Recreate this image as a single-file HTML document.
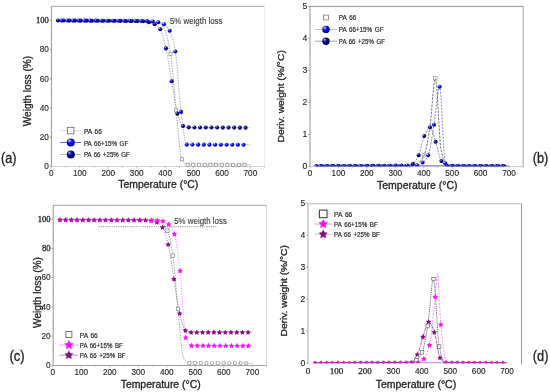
<!DOCTYPE html>
<html><head><meta charset="utf-8"><style>
html,body{margin:0;padding:0;background:#fff;width:550px;height:392px;overflow:hidden}
svg{display:block;filter:blur(0.35px)}
</style></head><body>
<svg width="550" height="392" viewBox="0 0 550 392" font-family='"Liberation Sans", sans-serif'>
<rect width="550" height="392" fill="#fff"/>
<defs><radialGradient id="gl" cx="0.4" cy="0.38" r="0.62" fx="0.33" fy="0.28"><stop offset="0" stop-color="#ffffff"/><stop offset="0.18" stop-color="#8080ff"/><stop offset="0.45" stop-color="#0808ff"/><stop offset="0.85" stop-color="#0000c0"/><stop offset="1" stop-color="#000090"/></radialGradient><radialGradient id="gd" cx="0.4" cy="0.38" r="0.62" fx="0.33" fy="0.28"><stop offset="0" stop-color="#e0e0ff"/><stop offset="0.18" stop-color="#5a5ab0"/><stop offset="0.45" stop-color="#0a0a98"/><stop offset="0.85" stop-color="#000070"/><stop offset="1" stop-color="#000048"/></radialGradient><clipPath id="cb"><rect x="310" y="6.4" width="213.2" height="159.9"/></clipPath><clipPath id="cd"><rect x="308" y="203.8" width="213.7" height="159.5"/></clipPath></defs>
<line x1="51.40" y1="6.30" x2="264.50" y2="6.30" stroke="#999" stroke-width="0.9"/>
<line x1="264.50" y1="6.30" x2="264.50" y2="166.50" stroke="#e8e8e8" stroke-width="0.8"/>
<line x1="51.40" y1="166.50" x2="264.50" y2="166.50" stroke="#c8c8c8" stroke-width="0.8"/>
<line x1="51.40" y1="6.30" x2="51.40" y2="166.50" stroke="#959595" stroke-width="1.0"/>
<line x1="51.40" y1="166.50" x2="51.40" y2="168.30" stroke="#999" stroke-width="0.6"/>
<line x1="65.61" y1="166.50" x2="65.61" y2="167.70" stroke="#999" stroke-width="0.6"/>
<line x1="79.83" y1="166.50" x2="79.83" y2="168.30" stroke="#999" stroke-width="0.6"/>
<line x1="94.04" y1="166.50" x2="94.04" y2="167.70" stroke="#999" stroke-width="0.6"/>
<line x1="108.26" y1="166.50" x2="108.26" y2="168.30" stroke="#999" stroke-width="0.6"/>
<line x1="122.47" y1="166.50" x2="122.47" y2="167.70" stroke="#999" stroke-width="0.6"/>
<line x1="136.69" y1="166.50" x2="136.69" y2="168.30" stroke="#999" stroke-width="0.6"/>
<line x1="150.91" y1="166.50" x2="150.91" y2="167.70" stroke="#999" stroke-width="0.6"/>
<line x1="165.12" y1="166.50" x2="165.12" y2="168.30" stroke="#999" stroke-width="0.6"/>
<line x1="179.34" y1="166.50" x2="179.34" y2="167.70" stroke="#999" stroke-width="0.6"/>
<line x1="193.55" y1="166.50" x2="193.55" y2="168.30" stroke="#999" stroke-width="0.6"/>
<line x1="207.77" y1="166.50" x2="207.77" y2="167.70" stroke="#999" stroke-width="0.6"/>
<line x1="221.98" y1="166.50" x2="221.98" y2="168.30" stroke="#999" stroke-width="0.6"/>
<line x1="236.19" y1="166.50" x2="236.19" y2="167.70" stroke="#999" stroke-width="0.6"/>
<line x1="250.41" y1="166.50" x2="250.41" y2="168.30" stroke="#999" stroke-width="0.6"/>
<line x1="264.62" y1="166.50" x2="264.62" y2="167.70" stroke="#999" stroke-width="0.6"/>
<text x="51.4" y="176.2" font-size="8.2" text-anchor="middle" fill="#222" stroke="#222" stroke-width="0.12" font-family='"Liberation Sans", sans-serif' font-weight="normal">0</text>
<text x="79.83" y="176.2" font-size="8.2" text-anchor="middle" fill="#222" stroke="#222" stroke-width="0.12" font-family='"Liberation Sans", sans-serif' font-weight="normal">100</text>
<text x="108.26" y="176.2" font-size="8.2" text-anchor="middle" fill="#222" stroke="#222" stroke-width="0.12" font-family='"Liberation Sans", sans-serif' font-weight="normal">200</text>
<text x="136.69" y="176.2" font-size="8.2" text-anchor="middle" fill="#222" stroke="#222" stroke-width="0.12" font-family='"Liberation Sans", sans-serif' font-weight="normal">300</text>
<text x="165.12" y="176.2" font-size="8.2" text-anchor="middle" fill="#222" stroke="#222" stroke-width="0.12" font-family='"Liberation Sans", sans-serif' font-weight="normal">400</text>
<text x="193.55" y="176.2" font-size="8.2" text-anchor="middle" fill="#222" stroke="#222" stroke-width="0.12" font-family='"Liberation Sans", sans-serif' font-weight="normal">500</text>
<text x="221.98" y="176.2" font-size="8.2" text-anchor="middle" fill="#222" stroke="#222" stroke-width="0.12" font-family='"Liberation Sans", sans-serif' font-weight="normal">600</text>
<text x="250.41" y="176.2" font-size="8.2" text-anchor="middle" fill="#222" stroke="#222" stroke-width="0.12" font-family='"Liberation Sans", sans-serif' font-weight="normal">700</text>
<line x1="49.60" y1="166.30" x2="51.40" y2="166.30" stroke="#777" stroke-width="0.6"/>
<text x="48.8" y="169.0" font-size="8.2" text-anchor="end" fill="#222" stroke="#222" stroke-width="0.12" font-family='"Liberation Sans", sans-serif' font-weight="normal">0</text>
<line x1="49.60" y1="137.14" x2="51.40" y2="137.14" stroke="#777" stroke-width="0.6"/>
<text x="48.8" y="139.84" font-size="8.2" text-anchor="end" fill="#222" stroke="#222" stroke-width="0.12" font-family='"Liberation Sans", sans-serif' font-weight="normal">20</text>
<line x1="49.60" y1="107.98" x2="51.40" y2="107.98" stroke="#777" stroke-width="0.6"/>
<text x="48.8" y="110.68" font-size="8.2" text-anchor="end" fill="#222" stroke="#222" stroke-width="0.12" font-family='"Liberation Sans", sans-serif' font-weight="normal">40</text>
<line x1="49.60" y1="78.82" x2="51.40" y2="78.82" stroke="#777" stroke-width="0.6"/>
<text x="48.8" y="81.52" font-size="8.2" text-anchor="end" fill="#222" stroke="#222" stroke-width="0.12" font-family='"Liberation Sans", sans-serif' font-weight="normal">60</text>
<line x1="49.60" y1="49.66" x2="51.40" y2="49.66" stroke="#777" stroke-width="0.6"/>
<text x="48.8" y="52.36" font-size="8.2" text-anchor="end" fill="#222" stroke="#222" stroke-width="0.12" font-family='"Liberation Sans", sans-serif' font-weight="normal">80</text>
<line x1="49.60" y1="20.50" x2="51.40" y2="20.50" stroke="#777" stroke-width="0.6"/>
<text x="48.8" y="23.4" font-size="8.6" text-anchor="end" fill="#222" stroke="#222" stroke-width="0.3" font-family='"Liberation Serif", serif' font-weight="normal">100</text>
<line x1="50.30" y1="151.72" x2="51.40" y2="151.72" stroke="#999" stroke-width="0.5"/>
<line x1="50.30" y1="122.56" x2="51.40" y2="122.56" stroke="#999" stroke-width="0.5"/>
<line x1="50.30" y1="93.40" x2="51.40" y2="93.40" stroke="#999" stroke-width="0.5"/>
<line x1="50.30" y1="64.24" x2="51.40" y2="64.24" stroke="#999" stroke-width="0.5"/>
<line x1="50.30" y1="35.08" x2="51.40" y2="35.08" stroke="#999" stroke-width="0.5"/>
<line x1="99.00" y1="26.80" x2="217.00" y2="26.80" stroke="#c4c4c4" stroke-width="0.7" stroke-dasharray="0.8 1.3"/>
<text x="169.9" y="23.8" font-size="8.6" text-anchor="start" fill="#333" stroke="#333" stroke-width="0.1" font-family='"Liberation Sans", sans-serif' font-weight="normal" textLength="52.6" lengthAdjust="spacingAndGlyphs">5% weigth loss</text>
<text x="118.3" y="187.9" font-size="10.2" text-anchor="start" fill="#222" stroke="#222" stroke-width="0.3" font-family='"Liberation Sans", sans-serif' font-weight="normal" textLength="80" lengthAdjust="spacingAndGlyphs">Temperature (°C)</text>
<text x="31.3" y="126.3" font-size="10.4" text-anchor="start" fill="#222" stroke="#222" stroke-width="0.3" font-family='"Liberation Sans", sans-serif' font-weight="normal" textLength="70.4" lengthAdjust="spacingAndGlyphs" transform="rotate(-90 31.3 126.3)">Weigth loss (%)</text>
<text x="1.0" y="162.6" font-size="14" text-anchor="start" fill="#222" stroke="#222" stroke-width="0.3" font-family='"Liberation Sans", sans-serif' font-weight="normal" textLength="15.4" lengthAdjust="spacingAndGlyphs">(a)</text>
<polyline points="57.09,20.50 57.65,20.50 58.22,20.50 58.79,20.51 59.36,20.51 59.93,20.51 60.50,20.51 61.07,20.51 61.63,20.51 62.20,20.52 62.77,20.52 63.34,20.52 63.91,20.52 64.48,20.52 65.05,20.52 65.61,20.52 66.18,20.52 66.75,20.53 67.32,20.53 67.89,20.53 68.46,20.53 69.03,20.53 69.60,20.53 70.16,20.53 70.73,20.53 71.30,20.54 71.87,20.54 72.44,20.54 73.01,20.54 73.58,20.54 74.14,20.54 74.71,20.54 75.28,20.54 75.85,20.54 76.42,20.55 76.99,20.55 77.56,20.55 78.12,20.55 78.69,20.55 79.26,20.55 79.83,20.55 80.40,20.55 80.97,20.55 81.54,20.55 82.10,20.55 82.67,20.56 83.24,20.56 83.81,20.56 84.38,20.56 84.95,20.56 85.52,20.56 86.08,20.56 86.65,20.56 87.22,20.56 87.79,20.56 88.36,20.56 88.93,20.56 89.50,20.57 90.06,20.57 90.63,20.57 91.20,20.57 91.77,20.57 92.34,20.57 92.91,20.57 93.48,20.57 94.04,20.57 94.61,20.57 95.18,20.57 95.75,20.57 96.32,20.58 96.89,20.58 97.46,20.58 98.03,20.58 98.59,20.58 99.16,20.58 99.73,20.58 100.30,20.58 100.87,20.58 101.44,20.58 102.01,20.59 102.57,20.59 103.14,20.59 103.71,20.59 104.28,20.59 104.85,20.59 105.42,20.59 105.99,20.59 106.55,20.59 107.12,20.60 107.69,20.60 108.26,20.60 108.83,20.60 109.40,20.60 109.97,20.60 110.53,20.60 111.10,20.61 111.67,20.61 112.24,20.61 112.81,20.61 113.38,20.61 113.95,20.61 114.51,20.61 115.08,20.62 115.65,20.62 116.22,20.62 116.79,20.62 117.36,20.62 117.93,20.63 118.49,20.63 119.06,20.63 119.63,20.63 120.20,20.63 120.77,20.63 121.34,20.64 121.91,20.64 122.47,20.64 123.04,20.64 123.61,20.65 124.18,20.65 124.75,20.65 125.32,20.65 125.89,20.66 126.46,20.66 127.02,20.66 127.59,20.66 128.16,20.67 128.73,20.67 129.30,20.67 129.87,20.67 130.44,20.68 131.00,20.68 131.57,20.68 132.14,20.69 132.71,20.69 133.28,20.69 133.85,20.69 134.42,20.70 134.98,20.70 135.55,20.70 136.12,20.71 136.69,20.71 137.26,20.71 137.83,20.72 138.40,20.72 138.96,20.73 139.53,20.73 140.10,20.73 140.67,20.74 141.24,20.74 141.81,20.75 142.38,20.75 142.94,20.75 143.51,20.76 144.08,20.76 144.65,20.77 145.22,20.77 145.79,20.78 146.36,20.78 146.92,20.78 147.49,20.79 147.78,20.79 148.06,20.80 148.63,20.81 149.20,20.84 149.77,20.87 150.34,20.91 150.91,20.96 151.47,21.01 152.04,21.07 152.61,21.13 153.18,21.20 153.46,21.23 153.75,21.26 154.32,21.34 154.89,21.42 155.45,21.52 156.02,21.63 156.59,21.75 157.16,21.89 157.73,22.05 158.30,22.23 158.87,22.43 159.15,22.54 159.43,22.67 160.00,23.02 160.57,23.49 161.14,24.06 161.71,24.75 162.28,25.52 162.85,26.38 163.41,27.33 163.98,28.34 164.55,29.42 164.84,29.98 165.12,30.58 165.69,32.01 166.26,33.71 166.83,35.68 167.39,37.89 167.96,40.34 168.53,43.00 169.10,45.85 169.67,48.89 170.24,52.09 170.52,53.74 170.81,55.54 171.37,59.79 171.94,64.80 172.51,70.41 173.08,76.45 173.65,82.78 174.22,89.22 174.79,95.63 175.35,101.85 175.92,107.71 176.21,110.46 176.49,113.22 177.06,119.17 177.63,125.48 178.20,131.89 178.77,138.15 179.34,144.04 179.90,149.28 180.47,153.64 181.04,156.87 181.61,158.72 182.18,159.76 182.75,160.72 183.32,161.59 183.88,162.37 184.45,163.05 185.02,163.62 185.59,164.08 186.16,164.41 186.73,164.62 187.30,164.70 187.86,164.70 188.43,164.70 189.00,164.71 189.57,164.71 190.14,164.71 190.71,164.72 191.28,164.72 191.84,164.72 192.41,164.73 192.98,164.73 193.55,164.73 194.12,164.73 194.69,164.74 195.26,164.74 195.82,164.74 196.39,164.74 196.96,164.75 197.53,164.75 198.10,164.75 198.67,164.75 199.24,164.76 199.80,164.76 200.37,164.76 200.94,164.76 201.51,164.76 202.08,164.77 202.65,164.77 203.22,164.77 203.78,164.77 204.35,164.77 204.92,164.77 205.49,164.78 206.06,164.78 206.63,164.78 207.20,164.78 207.77,164.78 208.33,164.78 208.90,164.78 209.47,164.79 210.04,164.79 210.61,164.79 211.18,164.79 211.75,164.79 212.31,164.79 212.88,164.79 213.45,164.79 214.02,164.79 214.59,164.79 215.16,164.80 215.73,164.80 216.29,164.80 216.86,164.80 217.43,164.80 218.00,164.80 218.57,164.80 219.14,164.80 219.71,164.80 220.27,164.80 220.84,164.80 221.41,164.80 221.98,164.80 222.55,164.81 223.12,164.81 223.69,164.81 224.25,164.81 224.82,164.81 225.39,164.81 225.96,164.81 226.53,164.81 227.10,164.81 227.67,164.81 228.23,164.81 228.80,164.81 229.37,164.81 229.94,164.81 230.51,164.81 231.08,164.81 231.65,164.81 232.21,164.82 232.78,164.82 233.35,164.82 233.92,164.82 234.49,164.82 235.06,164.82 235.63,164.82 236.19,164.82 236.76,164.82 237.33,164.82 237.90,164.82 238.47,164.82 239.04,164.82 239.61,164.82 240.18,164.82 240.74,164.82 241.31,164.83 241.88,164.83 242.45,164.83 243.02,164.83 243.59,164.83 244.16,164.83 244.72,164.83 245.29,164.83 245.86,164.83 246.43,164.83 247.00,164.83 247.57,164.84 248.14,164.84 248.70,164.84 249.27,164.84 249.84,164.84 250.41,164.84" fill="none" stroke="#666" stroke-width="0.65" stroke-dasharray="1.3 1.3" opacity="1"/>
<polyline points="57.09,20.50 57.65,20.50 58.22,20.51 58.79,20.51 59.36,20.51 59.93,20.52 60.50,20.52 61.07,20.52 61.63,20.53 62.20,20.53 62.77,20.53 63.34,20.54 63.91,20.54 64.48,20.54 65.05,20.55 65.61,20.55 66.18,20.55 66.75,20.55 67.32,20.56 67.89,20.56 68.46,20.56 69.03,20.56 69.60,20.57 70.16,20.57 70.73,20.57 71.30,20.57 71.87,20.58 72.44,20.58 73.01,20.58 73.58,20.58 74.14,20.59 74.71,20.59 75.28,20.59 75.85,20.59 76.42,20.59 76.99,20.60 77.56,20.60 78.12,20.60 78.69,20.60 79.26,20.61 79.83,20.61 80.40,20.61 80.97,20.61 81.54,20.61 82.10,20.62 82.67,20.62 83.24,20.62 83.81,20.62 84.38,20.62 84.95,20.62 85.52,20.63 86.08,20.63 86.65,20.63 87.22,20.63 87.79,20.63 88.36,20.64 88.93,20.64 89.50,20.64 90.06,20.64 90.63,20.64 91.20,20.65 91.77,20.65 92.34,20.65 92.91,20.65 93.48,20.65 94.04,20.66 94.61,20.66 95.18,20.66 95.75,20.66 96.32,20.66 96.89,20.67 97.46,20.67 98.03,20.67 98.59,20.67 99.16,20.67 99.73,20.68 100.30,20.68 100.87,20.68 101.44,20.68 102.01,20.69 102.57,20.69 103.14,20.69 103.71,20.69 104.28,20.70 104.85,20.70 105.42,20.70 105.99,20.70 106.55,20.71 107.12,20.71 107.69,20.71 108.26,20.71 108.83,20.72 109.40,20.72 109.97,20.72 110.53,20.73 111.10,20.73 111.67,20.73 112.24,20.73 112.81,20.74 113.38,20.74 113.95,20.74 114.51,20.75 115.08,20.75 115.65,20.75 116.22,20.76 116.79,20.76 117.36,20.77 117.93,20.77 118.49,20.77 119.06,20.78 119.63,20.78 120.20,20.79 120.77,20.79 121.34,20.79 121.91,20.80 122.47,20.80 123.04,20.81 123.61,20.81 124.18,20.82 124.75,20.82 125.32,20.83 125.89,20.83 126.46,20.84 127.02,20.84 127.59,20.85 128.16,20.85 128.73,20.86 129.30,20.86 129.87,20.87 130.44,20.87 131.00,20.88 131.57,20.88 132.14,20.89 132.71,20.90 133.28,20.90 133.85,20.91 134.42,20.91 134.98,20.92 135.55,20.93 136.12,20.93 136.69,20.94 137.26,20.95 137.83,20.95 138.40,20.96 138.96,20.97 139.53,20.98 140.10,20.98 140.67,20.99 141.24,21.00 141.81,21.01 142.38,21.02 142.94,21.02 143.51,21.03 144.08,21.04 144.65,21.05 145.22,21.06 145.79,21.07 146.36,21.07 146.92,21.08 147.49,21.10 148.06,21.12 148.63,21.16 149.20,21.20 149.77,21.24 150.34,21.30 150.91,21.35 151.47,21.41 152.04,21.46 152.61,21.52 153.18,21.58 153.75,21.63 154.32,21.69 154.89,21.75 155.45,21.82 156.02,21.89 156.59,21.97 157.16,22.05 157.73,22.15 158.30,22.25 158.87,22.37 159.43,22.50 160.00,22.65 160.57,22.83 161.14,23.02 161.71,23.23 162.28,23.46 162.85,23.72 163.41,23.99 163.98,24.29 164.55,24.63 165.12,25.04 165.69,25.51 166.26,26.05 166.83,26.66 167.39,27.33 167.96,28.07 168.53,28.88 169.10,29.76 169.67,30.71 170.24,31.81 170.81,33.14 171.37,34.70 171.94,36.48 172.51,38.48 173.08,40.70 173.65,43.11 174.22,45.73 174.79,48.55 175.35,51.56 175.92,55.37 176.49,60.44 177.06,66.48 177.63,73.20 178.20,80.31 178.77,87.54 179.34,94.60 179.90,101.21 180.47,107.07 181.04,111.92 181.61,116.26 182.18,120.74 182.75,125.20 183.32,129.51 183.88,133.54 184.45,137.14 185.02,140.19 185.59,142.53 186.16,144.04 186.73,144.58 187.30,144.58 187.86,144.58 188.43,144.59 189.00,144.59 189.57,144.59 190.14,144.60 190.71,144.60 191.28,144.60 191.84,144.61 192.41,144.61 192.98,144.61 193.55,144.61 194.12,144.62 194.69,144.62 195.26,144.62 195.82,144.62 196.39,144.63 196.96,144.63 197.53,144.63 198.10,144.63 198.67,144.64 199.24,144.64 199.80,144.64 200.37,144.64 200.94,144.64 201.51,144.64 202.08,144.65 202.65,144.65 203.22,144.65 203.78,144.65 204.35,144.65 204.92,144.66 205.49,144.66 206.06,144.66 206.63,144.66 207.20,144.66 207.77,144.66 208.33,144.66 208.90,144.66 209.47,144.67 210.04,144.67 210.61,144.67 211.18,144.67 211.75,144.67 212.31,144.67 212.88,144.67 213.45,144.67 214.02,144.67 214.59,144.68 215.16,144.68 215.73,144.68 216.29,144.68 216.86,144.68 217.43,144.68 218.00,144.68 218.57,144.68 219.14,144.68 219.71,144.68 220.27,144.68 220.84,144.68 221.41,144.68 221.98,144.68 222.55,144.69 223.12,144.69 223.69,144.69 224.25,144.69 224.82,144.69 225.39,144.69 225.96,144.69 226.53,144.69 227.10,144.69 227.67,144.69 228.23,144.69 228.80,144.69 229.37,144.69 229.94,144.69 230.51,144.69 231.08,144.69 231.65,144.69 232.21,144.69 232.78,144.70 233.35,144.70 233.92,144.70 234.49,144.70 235.06,144.70 235.63,144.70 236.19,144.70 236.76,144.70 237.33,144.70 237.90,144.70 238.47,144.70 239.04,144.70 239.61,144.70 240.18,144.70 240.74,144.70 241.31,144.71 241.88,144.71 242.45,144.71 243.02,144.71 243.59,144.71 244.16,144.71 244.72,144.71 245.29,144.71 245.86,144.71 246.43,144.71 247.00,144.71 247.57,144.72 248.14,144.72 248.70,144.72 249.27,144.72 249.84,144.72 250.41,144.72" fill="none" stroke="#777" stroke-width="0.65" stroke-dasharray="1.3 1.3" opacity="1"/>
<polyline points="57.09,20.50 57.65,20.50 58.22,20.51 58.79,20.51 59.36,20.52 59.93,20.52 60.50,20.53 61.07,20.53 61.63,20.54 62.20,20.54 62.77,20.54 63.34,20.55 63.91,20.55 64.48,20.55 65.05,20.56 65.61,20.56 66.18,20.57 66.75,20.57 67.32,20.57 67.89,20.58 68.46,20.58 69.03,20.58 69.60,20.58 70.16,20.59 70.73,20.59 71.30,20.59 71.87,20.60 72.44,20.60 73.01,20.60 73.58,20.60 74.14,20.61 74.71,20.61 75.28,20.61 75.85,20.62 76.42,20.62 76.99,20.62 77.56,20.62 78.12,20.63 78.69,20.63 79.26,20.63 79.83,20.63 80.40,20.63 80.97,20.64 81.54,20.64 82.10,20.64 82.67,20.64 83.24,20.65 83.81,20.65 84.38,20.65 84.95,20.65 85.52,20.66 86.08,20.66 86.65,20.66 87.22,20.66 87.79,20.66 88.36,20.67 88.93,20.67 89.50,20.67 90.06,20.67 90.63,20.68 91.20,20.68 91.77,20.68 92.34,20.68 92.91,20.69 93.48,20.69 94.04,20.69 94.61,20.69 95.18,20.70 95.75,20.70 96.32,20.70 96.89,20.70 97.46,20.71 98.03,20.71 98.59,20.71 99.16,20.71 99.73,20.72 100.30,20.72 100.87,20.72 101.44,20.73 102.01,20.73 102.57,20.73 103.14,20.73 103.71,20.74 104.28,20.74 104.85,20.74 105.42,20.75 105.99,20.75 106.55,20.75 107.12,20.76 107.69,20.76 108.26,20.77 108.83,20.77 109.40,20.77 109.97,20.78 110.53,20.78 111.10,20.79 111.67,20.79 112.24,20.79 112.81,20.80 113.38,20.80 113.95,20.81 114.51,20.81 115.08,20.82 115.65,20.82 116.22,20.83 116.79,20.83 117.36,20.84 117.93,20.84 118.49,20.85 119.06,20.85 119.63,20.86 120.20,20.87 120.77,20.87 121.34,20.88 121.91,20.88 122.47,20.89 123.04,20.90 123.61,20.90 124.18,20.91 124.75,20.92 125.32,20.93 125.89,20.93 126.46,20.94 127.02,20.95 127.59,20.95 128.16,20.96 128.73,20.97 129.30,20.98 129.87,20.99 130.44,21.00 131.00,21.00 131.57,21.01 132.14,21.02 132.71,21.03 133.28,21.04 133.85,21.05 134.42,21.06 134.98,21.07 135.55,21.08 136.12,21.09 136.69,21.10 137.26,21.11 137.83,21.12 138.40,21.13 138.96,21.14 139.53,21.15 140.10,21.16 140.67,21.17 141.24,21.19 141.81,21.20 142.38,21.21 142.94,21.22 143.23,21.23 143.51,21.24 144.08,21.28 144.65,21.34 145.22,21.43 145.79,21.53 146.36,21.64 146.92,21.77 147.49,21.90 148.06,22.04 148.63,22.18 148.91,22.25 149.20,22.32 149.77,22.47 150.34,22.62 150.91,22.80 151.47,22.98 152.04,23.18 152.61,23.40 153.18,23.63 153.75,23.88 154.32,24.15 154.60,24.29 154.89,24.44 155.45,24.75 156.02,25.10 156.59,25.49 157.16,25.92 157.73,26.39 158.30,26.92 158.87,27.50 159.43,28.15 160.00,28.86 160.29,29.25 160.57,29.68 161.14,30.80 161.71,32.21 162.28,33.87 162.85,35.75 163.41,37.81 163.98,40.02 164.55,42.33 165.12,44.72 165.69,47.14 165.97,48.35 166.26,49.60 166.83,52.35 167.39,55.37 167.96,58.61 168.53,62.01 169.10,65.53 169.67,69.11 170.24,72.69 170.81,76.22 171.37,79.64 171.66,81.30 171.94,82.96 172.51,86.46 173.08,90.11 173.65,93.82 174.22,97.51 174.79,101.10 175.35,104.50 175.92,107.62 176.49,110.38 177.06,112.70 177.34,113.67 177.63,114.56 178.20,116.32 178.77,118.01 179.34,119.62 179.90,121.11 180.47,122.46 181.04,123.64 181.61,124.63 182.18,125.39 182.75,125.90 183.03,126.06 183.32,126.18 183.88,126.39 184.45,126.59 185.02,126.77 185.59,126.93 186.16,127.07 186.73,127.18 187.30,127.27 187.86,127.33 188.43,127.36 188.72,127.37 189.00,127.37 189.57,127.38 190.14,127.39 190.71,127.40 191.28,127.40 191.84,127.41 192.41,127.41 192.98,127.42 193.55,127.43 194.12,127.43 194.69,127.44 195.26,127.44 195.82,127.45 196.39,127.45 196.96,127.46 197.53,127.46 198.10,127.47 198.67,127.47 199.24,127.48 199.80,127.48 200.37,127.49 200.94,127.49 201.51,127.50 202.08,127.50 202.65,127.50 203.22,127.51 203.78,127.51 204.35,127.51 204.92,127.52 205.49,127.52 206.06,127.52 206.63,127.53 207.20,127.53 207.77,127.53 208.33,127.54 208.90,127.54 209.47,127.54 210.04,127.54 210.61,127.55 211.18,127.55 211.75,127.55 212.31,127.55 212.88,127.56 213.45,127.56 214.02,127.56 214.59,127.56 215.16,127.56 215.73,127.57 216.29,127.57 216.86,127.57 217.43,127.57 218.00,127.57 218.57,127.58 219.14,127.58 219.71,127.58 220.27,127.58 220.84,127.58 221.41,127.58 221.98,127.58 222.55,127.59 223.12,127.59 223.69,127.59 224.25,127.59 224.82,127.59 225.39,127.59 225.96,127.59 226.53,127.59 227.10,127.60 227.67,127.60 228.23,127.60 228.80,127.60 229.37,127.60 229.94,127.60 230.51,127.60 231.08,127.60 231.65,127.61 232.21,127.61 232.78,127.61 233.35,127.61 233.92,127.61 234.49,127.61 235.06,127.61 235.63,127.61 236.19,127.62 236.76,127.62 237.33,127.62 237.90,127.62 238.47,127.62 239.04,127.62 239.61,127.62 240.18,127.63 240.74,127.63 241.31,127.63 241.88,127.63 242.45,127.63 243.02,127.63 243.59,127.64 244.16,127.64 244.72,127.64 245.29,127.64 245.86,127.64 246.43,127.65 247.00,127.65 247.57,127.65 248.14,127.65 248.70,127.66 249.27,127.66 249.84,127.66 250.41,127.66" fill="none" stroke="#777" stroke-width="0.65" stroke-dasharray="1.3 1.3" opacity="1"/>
<rect x="168.97" y="52.19" width="3.1" height="3.1" fill="#fff" stroke="#777" stroke-width="0.6"/>
<rect x="174.66" y="108.91" width="3.1" height="3.1" fill="#fff" stroke="#777" stroke-width="0.6"/>
<rect x="180.34" y="157.70" width="3.1" height="3.1" fill="#fff" stroke="#777" stroke-width="0.6"/>
<rect x="186.03" y="163.15" width="3.1" height="3.1" fill="#fff" stroke="#777" stroke-width="0.6"/>
<rect x="191.72" y="163.18" width="3.1" height="3.1" fill="#fff" stroke="#777" stroke-width="0.6"/>
<rect x="197.40" y="163.20" width="3.1" height="3.1" fill="#fff" stroke="#777" stroke-width="0.6"/>
<rect x="203.09" y="163.22" width="3.1" height="3.1" fill="#fff" stroke="#777" stroke-width="0.6"/>
<rect x="208.77" y="163.24" width="3.1" height="3.1" fill="#fff" stroke="#777" stroke-width="0.6"/>
<rect x="214.46" y="163.25" width="3.1" height="3.1" fill="#fff" stroke="#777" stroke-width="0.6"/>
<rect x="220.15" y="163.25" width="3.1" height="3.1" fill="#fff" stroke="#777" stroke-width="0.6"/>
<rect x="225.83" y="163.26" width="3.1" height="3.1" fill="#fff" stroke="#777" stroke-width="0.6"/>
<rect x="231.52" y="163.27" width="3.1" height="3.1" fill="#fff" stroke="#777" stroke-width="0.6"/>
<rect x="237.20" y="163.27" width="3.1" height="3.1" fill="#fff" stroke="#777" stroke-width="0.6"/>
<rect x="242.89" y="163.28" width="3.1" height="3.1" fill="#fff" stroke="#777" stroke-width="0.6"/>
<circle cx="57.94" cy="20.51" r="2.05" fill="url(#gd)"/>
<circle cx="63.62" cy="20.55" r="2.05" fill="url(#gd)"/>
<circle cx="69.31" cy="20.58" r="2.05" fill="url(#gd)"/>
<circle cx="75.00" cy="20.61" r="2.05" fill="url(#gd)"/>
<circle cx="80.68" cy="20.64" r="2.05" fill="url(#gd)"/>
<circle cx="86.37" cy="20.66" r="2.05" fill="url(#gd)"/>
<circle cx="92.05" cy="20.68" r="2.05" fill="url(#gd)"/>
<circle cx="97.74" cy="20.71" r="2.05" fill="url(#gd)"/>
<circle cx="103.43" cy="20.74" r="2.05" fill="url(#gd)"/>
<circle cx="109.11" cy="20.77" r="2.05" fill="url(#gd)"/>
<circle cx="114.80" cy="20.82" r="2.05" fill="url(#gd)"/>
<circle cx="120.48" cy="20.87" r="2.05" fill="url(#gd)"/>
<circle cx="126.17" cy="20.94" r="2.05" fill="url(#gd)"/>
<circle cx="131.86" cy="21.02" r="2.05" fill="url(#gd)"/>
<circle cx="137.54" cy="21.11" r="2.05" fill="url(#gd)"/>
<circle cx="143.23" cy="21.23" r="2.05" fill="url(#gd)"/>
<circle cx="148.91" cy="22.25" r="2.05" fill="url(#gd)"/>
<circle cx="154.60" cy="24.29" r="2.05" fill="url(#gd)"/>
<circle cx="160.29" cy="29.25" r="2.05" fill="url(#gd)"/>
<circle cx="165.97" cy="48.35" r="2.05" fill="url(#gd)"/>
<circle cx="171.66" cy="81.30" r="2.05" fill="url(#gd)"/>
<circle cx="177.34" cy="113.67" r="2.05" fill="url(#gd)"/>
<circle cx="183.03" cy="126.06" r="2.05" fill="url(#gd)"/>
<circle cx="188.72" cy="127.37" r="2.05" fill="url(#gd)"/>
<circle cx="194.40" cy="127.44" r="2.05" fill="url(#gd)"/>
<circle cx="200.09" cy="127.48" r="2.05" fill="url(#gd)"/>
<circle cx="205.77" cy="127.52" r="2.05" fill="url(#gd)"/>
<circle cx="211.46" cy="127.55" r="2.05" fill="url(#gd)"/>
<circle cx="217.15" cy="127.57" r="2.05" fill="url(#gd)"/>
<circle cx="222.83" cy="127.59" r="2.05" fill="url(#gd)"/>
<circle cx="228.52" cy="127.60" r="2.05" fill="url(#gd)"/>
<circle cx="234.20" cy="127.61" r="2.05" fill="url(#gd)"/>
<circle cx="239.89" cy="127.63" r="2.05" fill="url(#gd)"/>
<circle cx="245.58" cy="127.64" r="2.05" fill="url(#gd)"/>
<circle cx="61.63" cy="20.53" r="2.05" fill="url(#gl)"/>
<circle cx="67.32" cy="20.56" r="2.05" fill="url(#gl)"/>
<circle cx="73.01" cy="20.58" r="2.05" fill="url(#gl)"/>
<circle cx="78.69" cy="20.60" r="2.05" fill="url(#gl)"/>
<circle cx="84.38" cy="20.62" r="2.05" fill="url(#gl)"/>
<circle cx="90.06" cy="20.64" r="2.05" fill="url(#gl)"/>
<circle cx="95.75" cy="20.66" r="2.05" fill="url(#gl)"/>
<circle cx="101.44" cy="20.68" r="2.05" fill="url(#gl)"/>
<circle cx="107.12" cy="20.71" r="2.05" fill="url(#gl)"/>
<circle cx="112.81" cy="20.74" r="2.05" fill="url(#gl)"/>
<circle cx="118.49" cy="20.77" r="2.05" fill="url(#gl)"/>
<circle cx="124.18" cy="20.82" r="2.05" fill="url(#gl)"/>
<circle cx="129.87" cy="20.87" r="2.05" fill="url(#gl)"/>
<circle cx="135.55" cy="20.93" r="2.05" fill="url(#gl)"/>
<circle cx="141.24" cy="21.00" r="2.05" fill="url(#gl)"/>
<circle cx="146.92" cy="21.08" r="2.05" fill="url(#gl)"/>
<circle cx="152.61" cy="21.52" r="2.05" fill="url(#gl)"/>
<circle cx="158.30" cy="22.25" r="2.05" fill="url(#gl)"/>
<circle cx="163.98" cy="24.29" r="2.05" fill="url(#gl)"/>
<circle cx="169.67" cy="30.71" r="2.05" fill="url(#gl)"/>
<circle cx="175.35" cy="51.56" r="2.05" fill="url(#gl)"/>
<circle cx="181.04" cy="111.92" r="2.05" fill="url(#gl)"/>
<circle cx="186.73" cy="144.58" r="2.05" fill="url(#gl)"/>
<circle cx="192.41" cy="144.61" r="2.05" fill="url(#gl)"/>
<circle cx="198.10" cy="144.63" r="2.05" fill="url(#gl)"/>
<circle cx="203.78" cy="144.65" r="2.05" fill="url(#gl)"/>
<circle cx="209.47" cy="144.67" r="2.05" fill="url(#gl)"/>
<circle cx="215.16" cy="144.68" r="2.05" fill="url(#gl)"/>
<circle cx="220.84" cy="144.68" r="2.05" fill="url(#gl)"/>
<circle cx="226.53" cy="144.69" r="2.05" fill="url(#gl)"/>
<circle cx="232.21" cy="144.69" r="2.05" fill="url(#gl)"/>
<circle cx="237.90" cy="144.70" r="2.05" fill="url(#gl)"/>
<circle cx="243.59" cy="144.71" r="2.05" fill="url(#gl)"/>
<line x1="60.10" y1="130.70" x2="81.20" y2="130.70" stroke="#ccc" stroke-width="0.7"/>
<rect x="67.50" y="127.40" width="6.4" height="6.4" fill="#fff" stroke="#777" stroke-width="0.9"/>
<line x1="60.10" y1="142.50" x2="81.20" y2="142.50" stroke="#3a40b8" stroke-width="0.8"/>
<circle cx="70.80" cy="142.40" r="4.0" fill="url(#gl)"/>
<line x1="60.10" y1="154.50" x2="81.20" y2="154.50" stroke="#999" stroke-width="0.7"/>
<circle cx="70.80" cy="154.50" r="4.0" fill="url(#gd)"/>
<text x="83.9" y="133.5" font-size="6.5" text-anchor="start" fill="#1e1e1e" stroke="#1e1e1e" stroke-width="0.18" font-family='"Liberation Sans", sans-serif' font-weight="normal" textLength="17.9" lengthAdjust="spacingAndGlyphs" word-spacing="0.9">PA 66</text>
<text x="83.9" y="145.6" font-size="6.5" text-anchor="start" fill="#1e1e1e" stroke="#1e1e1e" stroke-width="0.18" font-family='"Liberation Sans", sans-serif' font-weight="normal" textLength="44.3" lengthAdjust="spacingAndGlyphs" word-spacing="0.9">PA 66+15% GF</text>
<text x="83.9" y="157.2" font-size="6.5" text-anchor="start" fill="#1e1e1e" stroke="#1e1e1e" stroke-width="0.18" font-family='"Liberation Sans", sans-serif' font-weight="normal" textLength="45.8" lengthAdjust="spacingAndGlyphs" word-spacing="0.9">PA 66 +25% GF</text>
<line x1="310.00" y1="6.40" x2="523.20" y2="6.40" stroke="#858585" stroke-width="0.9"/>
<line x1="523.20" y1="6.40" x2="523.20" y2="166.60" stroke="#8c8c8c" stroke-width="0.8"/>
<line x1="310.00" y1="166.60" x2="523.20" y2="166.60" stroke="#bbb" stroke-width="0.8"/>
<line x1="310.00" y1="6.40" x2="310.00" y2="166.60" stroke="#959595" stroke-width="1.0"/>
<line x1="310.00" y1="166.60" x2="310.00" y2="168.40" stroke="#999" stroke-width="0.6"/>
<line x1="324.21" y1="166.60" x2="324.21" y2="167.80" stroke="#999" stroke-width="0.6"/>
<line x1="338.43" y1="166.60" x2="338.43" y2="168.40" stroke="#999" stroke-width="0.6"/>
<line x1="352.64" y1="166.60" x2="352.64" y2="167.80" stroke="#999" stroke-width="0.6"/>
<line x1="366.86" y1="166.60" x2="366.86" y2="168.40" stroke="#999" stroke-width="0.6"/>
<line x1="381.07" y1="166.60" x2="381.07" y2="167.80" stroke="#999" stroke-width="0.6"/>
<line x1="395.29" y1="166.60" x2="395.29" y2="168.40" stroke="#999" stroke-width="0.6"/>
<line x1="409.50" y1="166.60" x2="409.50" y2="167.80" stroke="#999" stroke-width="0.6"/>
<line x1="423.72" y1="166.60" x2="423.72" y2="168.40" stroke="#999" stroke-width="0.6"/>
<line x1="437.94" y1="166.60" x2="437.94" y2="167.80" stroke="#999" stroke-width="0.6"/>
<line x1="452.15" y1="166.60" x2="452.15" y2="168.40" stroke="#999" stroke-width="0.6"/>
<line x1="466.37" y1="166.60" x2="466.37" y2="167.80" stroke="#999" stroke-width="0.6"/>
<line x1="480.58" y1="166.60" x2="480.58" y2="168.40" stroke="#999" stroke-width="0.6"/>
<line x1="494.79" y1="166.60" x2="494.79" y2="167.80" stroke="#999" stroke-width="0.6"/>
<line x1="509.01" y1="166.60" x2="509.01" y2="168.40" stroke="#999" stroke-width="0.6"/>
<line x1="523.23" y1="166.60" x2="523.23" y2="167.80" stroke="#999" stroke-width="0.6"/>
<text x="310.0" y="176.2" font-size="8.2" text-anchor="middle" fill="#222" stroke="#222" stroke-width="0.12" font-family='"Liberation Sans", sans-serif' font-weight="normal">0</text>
<text x="338.43" y="176.2" font-size="8.2" text-anchor="middle" fill="#222" stroke="#222" stroke-width="0.12" font-family='"Liberation Sans", sans-serif' font-weight="normal">100</text>
<text x="366.86" y="176.2" font-size="8.2" text-anchor="middle" fill="#222" stroke="#222" stroke-width="0.12" font-family='"Liberation Sans", sans-serif' font-weight="normal">200</text>
<text x="395.29" y="176.2" font-size="8.2" text-anchor="middle" fill="#222" stroke="#222" stroke-width="0.12" font-family='"Liberation Sans", sans-serif' font-weight="normal">300</text>
<text x="423.72" y="176.2" font-size="8.2" text-anchor="middle" fill="#222" stroke="#222" stroke-width="0.12" font-family='"Liberation Sans", sans-serif' font-weight="normal">400</text>
<text x="452.15" y="176.2" font-size="8.2" text-anchor="middle" fill="#222" stroke="#222" stroke-width="0.12" font-family='"Liberation Sans", sans-serif' font-weight="normal">500</text>
<text x="480.58" y="176.2" font-size="8.2" text-anchor="middle" fill="#222" stroke="#222" stroke-width="0.12" font-family='"Liberation Sans", sans-serif' font-weight="normal">600</text>
<text x="509.01" y="176.2" font-size="8.2" text-anchor="middle" fill="#222" stroke="#222" stroke-width="0.12" font-family='"Liberation Sans", sans-serif' font-weight="normal">700</text>
<line x1="308.20" y1="166.40" x2="310.00" y2="166.40" stroke="#777" stroke-width="0.6"/>
<text x="307.2" y="169.4" font-size="8.6" text-anchor="end" fill="#222" stroke="#222" stroke-width="0.12" font-family='"Liberation Sans", sans-serif' font-weight="normal">0</text>
<line x1="308.20" y1="134.40" x2="310.00" y2="134.40" stroke="#777" stroke-width="0.6"/>
<text x="307.2" y="137.4" font-size="8.6" text-anchor="end" fill="#222" stroke="#222" stroke-width="0.12" font-family='"Liberation Sans", sans-serif' font-weight="normal">1</text>
<line x1="308.20" y1="102.40" x2="310.00" y2="102.40" stroke="#777" stroke-width="0.6"/>
<text x="307.2" y="105.4" font-size="8.6" text-anchor="end" fill="#222" stroke="#222" stroke-width="0.12" font-family='"Liberation Sans", sans-serif' font-weight="normal">2</text>
<line x1="308.20" y1="70.40" x2="310.00" y2="70.40" stroke="#777" stroke-width="0.6"/>
<text x="307.2" y="73.4" font-size="8.6" text-anchor="end" fill="#222" stroke="#222" stroke-width="0.12" font-family='"Liberation Sans", sans-serif' font-weight="normal">3</text>
<line x1="308.20" y1="38.40" x2="310.00" y2="38.40" stroke="#777" stroke-width="0.6"/>
<text x="307.2" y="41.4" font-size="8.6" text-anchor="end" fill="#222" stroke="#222" stroke-width="0.12" font-family='"Liberation Sans", sans-serif' font-weight="normal">4</text>
<line x1="308.20" y1="6.40" x2="310.00" y2="6.40" stroke="#777" stroke-width="0.6"/>
<text x="307.2" y="9.4" font-size="8.6" text-anchor="end" fill="#222" stroke="#222" stroke-width="0.12" font-family='"Liberation Sans", sans-serif' font-weight="normal">5</text>
<line x1="308.90" y1="150.40" x2="310.00" y2="150.40" stroke="#999" stroke-width="0.5"/>
<line x1="308.90" y1="118.40" x2="310.00" y2="118.40" stroke="#999" stroke-width="0.5"/>
<line x1="308.90" y1="86.40" x2="310.00" y2="86.40" stroke="#999" stroke-width="0.5"/>
<line x1="308.90" y1="54.40" x2="310.00" y2="54.40" stroke="#999" stroke-width="0.5"/>
<line x1="308.90" y1="22.40" x2="310.00" y2="22.40" stroke="#999" stroke-width="0.5"/>
<text x="377" y="188.6" font-size="10.2" text-anchor="start" fill="#222" stroke="#222" stroke-width="0.3" font-family='"Liberation Sans", sans-serif' font-weight="normal" textLength="80.5" lengthAdjust="spacingAndGlyphs">Temperature (°C)</text>
<text x="284.4" y="142.4" font-size="9.9" text-anchor="start" fill="#222" stroke="#222" stroke-width="0.3" font-family='"Liberation Sans", sans-serif' font-weight="normal" textLength="92.3" lengthAdjust="spacingAndGlyphs" transform="rotate(-90 284.4 142.4)">Deriv. weight (%/°C)</text>
<text x="532.7" y="163.4" font-size="14" text-anchor="start" fill="#222" stroke="#222" stroke-width="0.3" font-family='"Liberation Sans", sans-serif' font-weight="normal" textLength="15.6" lengthAdjust="spacingAndGlyphs">(b)</text>
<g clip-path="url(#cb)">
<polyline points="315.69,166.08 316.25,166.08 316.82,166.08 317.39,166.07 317.96,166.07 318.53,166.07 319.10,166.07 319.67,166.07 320.23,166.07 320.80,166.06 321.37,166.06 321.94,166.06 322.51,166.06 323.08,166.06 323.65,166.06 324.21,166.05 324.78,166.05 325.35,166.05 325.92,166.05 326.49,166.05 327.06,166.05 327.63,166.05 328.20,166.04 328.76,166.04 329.33,166.04 329.90,166.04 330.47,166.04 331.04,166.04 331.61,166.04 332.18,166.04 332.74,166.04 333.31,166.03 333.88,166.03 334.45,166.03 335.02,166.03 335.59,166.03 336.16,166.03 336.72,166.03 337.29,166.03 337.86,166.03 338.43,166.03 339.00,166.02 339.57,166.02 340.14,166.02 340.70,166.02 341.27,166.02 341.84,166.02 342.41,166.02 342.98,166.02 343.55,166.02 344.12,166.02 344.68,166.02 345.25,166.01 345.82,166.01 346.39,166.01 346.96,166.01 347.53,166.01 348.10,166.01 348.66,166.01 349.23,166.01 349.80,166.01 350.37,166.01 350.94,166.01 351.51,166.00 352.08,166.00 352.64,166.00 353.21,166.00 353.78,166.00 354.35,166.00 354.92,166.00 355.49,166.00 356.06,166.00 356.63,166.00 357.19,166.00 357.76,165.99 358.33,165.99 358.90,165.99 359.47,165.99 360.04,165.99 360.61,165.99 361.17,165.99 361.74,165.99 362.31,165.99 362.88,165.98 363.45,165.98 364.02,165.98 364.59,165.98 365.15,165.98 365.72,165.98 366.29,165.98 366.86,165.97 367.43,165.97 368.00,165.97 368.57,165.97 369.13,165.97 369.70,165.97 370.27,165.97 370.84,165.96 371.41,165.96 371.98,165.96 372.55,165.96 373.11,165.96 373.68,165.96 374.25,165.95 374.82,165.95 375.39,165.95 375.96,165.95 376.53,165.95 377.09,165.94 377.66,165.94 378.23,165.94 378.80,165.94 379.37,165.94 379.94,165.93 380.51,165.93 381.07,165.93 381.64,165.93 382.21,165.92 382.78,165.92 383.35,165.92 383.92,165.92 384.49,165.91 385.06,165.91 385.62,165.91 386.19,165.91 386.76,165.90 387.33,165.90 387.90,165.90 388.47,165.89 389.04,165.89 389.60,165.89 390.17,165.88 390.74,165.88 391.31,165.88 391.88,165.87 392.45,165.87 393.02,165.87 393.58,165.86 394.15,165.86 394.72,165.86 395.29,165.85 395.86,165.85 396.43,165.85 397.00,165.84 397.56,165.84 398.13,165.83 398.70,165.83 399.27,165.82 399.84,165.82 400.41,165.82 400.98,165.81 401.54,165.81 402.11,165.80 402.68,165.80 403.25,165.79 403.82,165.79 404.39,165.78 404.96,165.78 405.52,165.77 406.09,165.77 406.66,165.76 406.95,165.76 407.23,165.76 407.80,165.73 408.37,165.70 408.94,165.65 409.50,165.59 410.07,165.52 410.64,165.44 411.21,165.35 411.78,165.26 412.35,165.17 412.63,165.12 412.92,165.07 413.49,164.96 414.05,164.83 414.62,164.68 415.19,164.51 415.76,164.33 416.33,164.12 416.90,163.89 417.47,163.63 418.03,163.35 418.32,163.20 418.60,163.03 419.17,162.63 419.74,162.13 420.31,161.53 420.88,160.84 421.45,160.07 422.01,159.20 422.58,158.25 423.15,157.22 423.72,156.11 424.00,155.52 424.29,154.87 424.86,153.28 425.43,151.33 425.99,149.05 426.56,146.48 427.13,143.67 427.70,140.64 428.27,137.45 428.84,134.12 429.41,130.70 429.69,128.96 429.97,127.02 430.54,122.11 431.11,116.16 431.68,109.56 432.25,102.72 432.82,96.02 433.39,89.87 433.95,84.67 434.52,80.81 435.09,78.68 435.38,78.40 435.66,78.86 436.23,82.24 436.80,88.32 437.37,96.42 437.94,105.83 438.50,115.86 439.07,125.79 439.64,134.93 440.21,142.59 440.78,148.06 441.06,149.76 441.35,151.06 441.92,153.56 442.48,155.93 443.05,158.13 443.62,160.11 444.19,161.86 444.76,163.32 445.33,164.47 445.90,165.28 446.46,165.70 446.75,165.76 447.03,165.76 447.60,165.77 448.17,165.78 448.74,165.79 449.31,165.79 449.88,165.80 450.44,165.81 451.01,165.82 451.58,165.82 452.15,165.83 452.72,165.83 453.29,165.84 453.86,165.85 454.42,165.85 454.99,165.86 455.56,165.86 456.13,165.87 456.70,165.87 457.27,165.88 457.84,165.88 458.40,165.89 458.97,165.89 459.54,165.90 460.11,165.90 460.68,165.91 461.25,165.91 461.82,165.92 462.38,165.92 462.95,165.92 463.52,165.93 464.09,165.93 464.66,165.93 465.23,165.94 465.80,165.94 466.37,165.94 466.93,165.95 467.50,165.95 468.07,165.95 468.64,165.96 469.21,165.96 469.78,165.96 470.35,165.96 470.91,165.97 471.48,165.97 472.05,165.97 472.62,165.97 473.19,165.98 473.76,165.98 474.33,165.98 474.89,165.98 475.46,165.98 476.03,165.98 476.60,165.99 477.17,165.99 477.74,165.99 478.31,165.99 478.87,165.99 479.44,165.99 480.01,166.00 480.58,166.00 481.15,166.00 481.72,166.00 482.29,166.00 482.85,166.00 483.42,166.00 483.99,166.01 484.56,166.01 485.13,166.01 485.70,166.01 486.27,166.01 486.83,166.01 487.40,166.01 487.97,166.01 488.54,166.02 489.11,166.02 489.68,166.02 490.25,166.02 490.81,166.02 491.38,166.02 491.95,166.02 492.52,166.02 493.09,166.03 493.66,166.03 494.23,166.03 494.79,166.03 495.36,166.03 495.93,166.03 496.50,166.03 497.07,166.04 497.64,166.04 498.21,166.04 498.78,166.04 499.34,166.04 499.91,166.04 500.48,166.05 501.05,166.05 501.62,166.05 502.19,166.05 502.76,166.05 503.32,166.06 503.89,166.06 504.46,166.06 505.03,166.06 505.60,166.06 506.17,166.07 506.74,166.07 507.30,166.07 507.87,166.07 508.44,166.08 509.01,166.08" fill="none" stroke="#444" stroke-width="0.75" stroke-dasharray="2.4 1.2" opacity="1"/>
<polyline points="315.69,166.08 316.25,166.08 316.82,166.08 317.39,166.08 317.96,166.08 318.53,166.08 319.10,166.07 319.67,166.07 320.23,166.07 320.80,166.07 321.37,166.07 321.94,166.07 322.51,166.07 323.08,166.07 323.65,166.07 324.21,166.07 324.78,166.07 325.35,166.07 325.92,166.06 326.49,166.06 327.06,166.06 327.63,166.06 328.20,166.06 328.76,166.06 329.33,166.06 329.90,166.06 330.47,166.06 331.04,166.06 331.61,166.06 332.18,166.06 332.74,166.06 333.31,166.06 333.88,166.06 334.45,166.06 335.02,166.05 335.59,166.05 336.16,166.05 336.72,166.05 337.29,166.05 337.86,166.05 338.43,166.05 339.00,166.05 339.57,166.05 340.14,166.05 340.70,166.05 341.27,166.05 341.84,166.05 342.41,166.05 342.98,166.05 343.55,166.05 344.12,166.05 344.68,166.05 345.25,166.05 345.82,166.04 346.39,166.04 346.96,166.04 347.53,166.04 348.10,166.04 348.66,166.04 349.23,166.04 349.80,166.04 350.37,166.04 350.94,166.04 351.51,166.04 352.08,166.04 352.64,166.04 353.21,166.04 353.78,166.04 354.35,166.04 354.92,166.04 355.49,166.04 356.06,166.04 356.63,166.03 357.19,166.03 357.76,166.03 358.33,166.03 358.90,166.03 359.47,166.03 360.04,166.03 360.61,166.03 361.17,166.03 361.74,166.03 362.31,166.03 362.88,166.03 363.45,166.03 364.02,166.03 364.59,166.03 365.15,166.03 365.72,166.02 366.29,166.02 366.86,166.02 367.43,166.02 368.00,166.02 368.57,166.02 369.13,166.02 369.70,166.02 370.27,166.02 370.84,166.02 371.41,166.02 371.98,166.02 372.55,166.01 373.11,166.01 373.68,166.01 374.25,166.01 374.82,166.01 375.39,166.01 375.96,166.01 376.53,166.01 377.09,166.01 377.66,166.01 378.23,166.00 378.80,166.00 379.37,166.00 379.94,166.00 380.51,166.00 381.07,166.00 381.64,166.00 382.21,166.00 382.78,166.00 383.35,165.99 383.92,165.99 384.49,165.99 385.06,165.99 385.62,165.99 386.19,165.99 386.76,165.99 387.33,165.98 387.90,165.98 388.47,165.98 389.04,165.98 389.60,165.98 390.17,165.98 390.74,165.97 391.31,165.97 391.88,165.97 392.45,165.97 393.02,165.97 393.58,165.97 394.15,165.96 394.72,165.96 395.29,165.96 395.86,165.96 396.43,165.96 397.00,165.95 397.56,165.95 398.13,165.95 398.70,165.95 399.27,165.95 399.84,165.94 400.41,165.94 400.98,165.94 401.54,165.94 402.11,165.93 402.68,165.93 403.25,165.93 403.82,165.93 404.39,165.93 404.96,165.92 405.52,165.92 406.09,165.92 406.66,165.91 407.23,165.90 407.80,165.88 408.37,165.86 408.94,165.84 409.50,165.82 410.07,165.80 410.64,165.78 411.21,165.76 411.78,165.74 412.35,165.72 412.92,165.70 413.49,165.67 414.05,165.65 414.62,165.62 415.19,165.58 415.76,165.54 416.33,165.49 416.90,165.44 417.47,165.35 418.03,165.20 418.60,164.99 419.17,164.74 419.74,164.45 420.31,164.11 420.88,163.75 421.45,163.37 422.01,162.97 422.58,162.56 423.15,162.13 423.72,161.64 424.29,161.11 424.86,160.51 425.43,159.84 425.99,159.10 426.56,158.27 427.13,157.35 427.70,156.33 428.27,155.20 428.84,153.69 429.41,151.60 429.97,149.02 430.54,146.04 431.11,142.74 431.68,139.23 432.25,135.59 432.82,131.91 433.39,128.28 433.95,124.80 434.52,121.00 435.09,116.51 435.66,111.60 436.23,106.53 436.80,101.53 437.37,96.88 437.94,92.82 438.50,89.60 439.07,87.48 439.64,86.72 440.21,88.81 440.78,94.51 441.35,102.91 441.92,113.14 442.48,124.30 443.05,135.52 443.62,145.91 444.19,154.57 444.76,160.63 445.33,163.20 445.90,163.70 446.46,164.15 447.03,164.56 447.60,164.91 448.17,165.21 448.74,165.46 449.31,165.66 449.88,165.80 450.44,165.89 451.01,165.92 451.58,165.92 452.15,165.93 452.72,165.93 453.29,165.94 453.86,165.94 454.42,165.94 454.99,165.95 455.56,165.95 456.13,165.95 456.70,165.96 457.27,165.96 457.84,165.96 458.40,165.97 458.97,165.97 459.54,165.97 460.11,165.98 460.68,165.98 461.25,165.98 461.82,165.98 462.38,165.99 462.95,165.99 463.52,165.99 464.09,165.99 464.66,166.00 465.23,166.00 465.80,166.00 466.37,166.00 466.93,166.00 467.50,166.01 468.07,166.01 468.64,166.01 469.21,166.01 469.78,166.01 470.35,166.01 470.91,166.02 471.48,166.02 472.05,166.02 472.62,166.02 473.19,166.02 473.76,166.02 474.33,166.02 474.89,166.03 475.46,166.03 476.03,166.03 476.60,166.03 477.17,166.03 477.74,166.03 478.31,166.03 478.87,166.03 479.44,166.03 480.01,166.03 480.58,166.04 481.15,166.04 481.72,166.04 482.29,166.04 482.85,166.04 483.42,166.04 483.99,166.04 484.56,166.04 485.13,166.04 485.70,166.04 486.27,166.04 486.83,166.04 487.40,166.04 487.97,166.05 488.54,166.05 489.11,166.05 489.68,166.05 490.25,166.05 490.81,166.05 491.38,166.05 491.95,166.05 492.52,166.05 493.09,166.05 493.66,166.05 494.23,166.05 494.79,166.05 495.36,166.05 495.93,166.05 496.50,166.06 497.07,166.06 497.64,166.06 498.21,166.06 498.78,166.06 499.34,166.06 499.91,166.06 500.48,166.06 501.05,166.06 501.62,166.06 502.19,166.06 502.76,166.07 503.32,166.07 503.89,166.07 504.46,166.07 505.03,166.07 505.60,166.07 506.17,166.07 506.74,166.07 507.30,166.08 507.87,166.08 508.44,166.08 509.01,166.08" fill="none" stroke="#5a5a90" stroke-width="0.7" stroke-dasharray="2 1.2" opacity="1"/>
<polyline points="315.69,166.08 316.25,166.08 316.82,166.07 317.39,166.07 317.96,166.06 318.53,166.06 319.10,166.06 319.67,166.05 320.23,166.05 320.80,166.05 321.37,166.04 321.94,166.04 322.51,166.04 323.08,166.03 323.65,166.03 324.21,166.03 324.78,166.03 325.35,166.02 325.92,166.02 326.49,166.02 327.06,166.02 327.63,166.01 328.20,166.01 328.76,166.01 329.33,166.01 329.90,166.00 330.47,166.00 331.04,166.00 331.61,166.00 332.18,165.99 332.74,165.99 333.31,165.99 333.88,165.99 334.45,165.99 335.02,165.98 335.59,165.98 336.16,165.98 336.72,165.98 337.29,165.98 337.86,165.97 338.43,165.97 339.00,165.97 339.57,165.97 340.14,165.97 340.70,165.96 341.27,165.96 341.84,165.96 342.41,165.96 342.98,165.96 343.55,165.96 344.12,165.95 344.68,165.95 345.25,165.95 345.82,165.95 346.39,165.95 346.96,165.95 347.53,165.94 348.10,165.94 348.66,165.94 349.23,165.94 349.80,165.94 350.37,165.94 350.94,165.93 351.51,165.93 352.08,165.93 352.64,165.93 353.21,165.93 353.78,165.92 354.35,165.92 354.92,165.92 355.49,165.92 356.06,165.92 356.63,165.91 357.19,165.91 357.76,165.91 358.33,165.91 358.90,165.91 359.47,165.90 360.04,165.90 360.61,165.90 361.17,165.90 361.74,165.90 362.31,165.89 362.88,165.89 363.45,165.89 364.02,165.89 364.59,165.88 365.15,165.88 365.72,165.88 366.29,165.88 366.86,165.87 367.43,165.87 368.00,165.87 368.57,165.86 369.13,165.86 369.70,165.86 370.27,165.86 370.84,165.85 371.41,165.85 371.98,165.85 372.55,165.84 373.11,165.84 373.68,165.84 374.25,165.83 374.82,165.83 375.39,165.82 375.96,165.82 376.53,165.82 377.09,165.81 377.66,165.81 378.23,165.80 378.80,165.80 379.37,165.80 379.94,165.79 380.51,165.79 381.07,165.78 381.64,165.78 382.21,165.77 382.78,165.77 383.35,165.76 383.92,165.76 384.49,165.75 385.06,165.75 385.62,165.74 386.19,165.74 386.76,165.73 387.33,165.72 387.90,165.72 388.47,165.71 389.04,165.71 389.60,165.70 390.17,165.69 390.74,165.69 391.31,165.68 391.88,165.67 392.45,165.67 393.02,165.66 393.58,165.65 394.15,165.65 394.72,165.64 395.29,165.63 395.86,165.62 396.43,165.62 397.00,165.61 397.56,165.60 398.13,165.59 398.70,165.58 399.27,165.58 399.84,165.57 400.41,165.56 400.98,165.55 401.54,165.54 402.11,165.53 402.68,165.52 403.25,165.51 403.82,165.50 404.39,165.49 404.96,165.48 405.52,165.47 406.09,165.46 406.66,165.45 407.23,165.44 407.80,165.41 408.37,165.35 408.94,165.25 409.50,165.12 410.07,164.96 410.64,164.78 411.21,164.58 411.78,164.35 412.35,164.10 412.92,163.84 413.49,163.49 414.05,162.98 414.62,162.33 415.19,161.55 415.76,160.67 416.33,159.70 416.90,158.65 417.47,157.54 418.03,156.38 418.60,155.20 419.17,153.80 419.74,152.06 420.31,150.05 420.88,147.87 421.45,145.60 422.01,143.33 422.58,141.15 423.15,139.14 423.72,137.40 424.29,136.00 424.86,134.79 425.43,133.58 425.99,132.38 426.56,131.24 427.13,130.19 427.70,129.26 428.27,128.48 428.84,127.88 429.41,127.49 429.97,127.36 430.54,127.62 431.11,128.33 431.68,129.43 432.25,130.85 432.82,132.50 433.39,134.32 433.95,136.23 434.52,138.16 435.09,140.02 435.66,141.76 436.23,143.56 436.80,145.62 437.37,147.84 437.94,150.15 438.50,152.46 439.07,154.68 439.64,156.72 440.21,158.51 440.78,159.95 441.35,160.96 441.92,161.72 442.48,162.44 443.05,163.12 443.62,163.75 444.19,164.31 444.76,164.80 445.33,165.20 445.90,165.50 446.46,165.69 447.03,165.76 447.60,165.77 448.17,165.78 448.74,165.78 449.31,165.79 449.88,165.80 450.44,165.80 451.01,165.81 451.58,165.82 452.15,165.83 452.72,165.83 453.29,165.84 453.86,165.84 454.42,165.85 454.99,165.86 455.56,165.86 456.13,165.87 456.70,165.87 457.27,165.88 457.84,165.88 458.40,165.89 458.97,165.89 459.54,165.90 460.11,165.90 460.68,165.90 461.25,165.91 461.82,165.91 462.38,165.92 462.95,165.92 463.52,165.92 464.09,165.93 464.66,165.93 465.23,165.94 465.80,165.94 466.37,165.94 466.93,165.95 467.50,165.95 468.07,165.95 468.64,165.95 469.21,165.96 469.78,165.96 470.35,165.96 470.91,165.96 471.48,165.97 472.05,165.97 472.62,165.97 473.19,165.97 473.76,165.98 474.33,165.98 474.89,165.98 475.46,165.98 476.03,165.98 476.60,165.99 477.17,165.99 477.74,165.99 478.31,165.99 478.87,165.99 479.44,165.99 480.01,166.00 480.58,166.00 481.15,166.00 481.72,166.00 482.29,166.00 482.85,166.00 483.42,166.00 483.99,166.00 484.56,166.01 485.13,166.01 485.70,166.01 486.27,166.01 486.83,166.01 487.40,166.01 487.97,166.01 488.54,166.01 489.11,166.02 489.68,166.02 490.25,166.02 490.81,166.02 491.38,166.02 491.95,166.02 492.52,166.02 493.09,166.03 493.66,166.03 494.23,166.03 494.79,166.03 495.36,166.03 495.93,166.03 496.50,166.03 497.07,166.04 497.64,166.04 498.21,166.04 498.78,166.04 499.34,166.04 499.91,166.04 500.48,166.05 501.05,166.05 501.62,166.05 502.19,166.05 502.76,166.05 503.32,166.05 503.89,166.06 504.46,166.06 505.03,166.06 505.60,166.06 506.17,166.07 506.74,166.07 507.30,166.07 507.87,166.07 508.44,166.08 509.01,166.08" fill="none" stroke="#5a5a90" stroke-width="0.7" stroke-dasharray="2 1.2" opacity="1"/>
<rect x="422.30" y="153.82" width="3.4" height="3.4" fill="none" stroke="#777" stroke-width="0.5"/>
<rect x="433.68" y="76.70" width="3.4" height="3.4" fill="none" stroke="#777" stroke-width="0.5"/>
<circle cx="320.23" cy="166.07" r="2.0" fill="url(#gl)"/>
<circle cx="325.92" cy="166.06" r="2.0" fill="url(#gl)"/>
<circle cx="331.61" cy="166.06" r="2.0" fill="url(#gl)"/>
<circle cx="337.29" cy="166.05" r="2.0" fill="url(#gl)"/>
<circle cx="342.98" cy="166.05" r="2.0" fill="url(#gl)"/>
<circle cx="348.66" cy="166.04" r="2.0" fill="url(#gl)"/>
<circle cx="354.35" cy="166.04" r="2.0" fill="url(#gl)"/>
<circle cx="360.04" cy="166.03" r="2.0" fill="url(#gl)"/>
<circle cx="365.72" cy="166.02" r="2.0" fill="url(#gl)"/>
<circle cx="371.41" cy="166.02" r="2.0" fill="url(#gl)"/>
<circle cx="377.09" cy="166.01" r="2.0" fill="url(#gl)"/>
<circle cx="382.78" cy="166.00" r="2.0" fill="url(#gl)"/>
<circle cx="388.47" cy="165.98" r="2.0" fill="url(#gl)"/>
<circle cx="394.15" cy="165.96" r="2.0" fill="url(#gl)"/>
<circle cx="399.84" cy="165.94" r="2.0" fill="url(#gl)"/>
<circle cx="405.52" cy="165.92" r="2.0" fill="url(#gl)"/>
<circle cx="411.21" cy="165.76" r="2.0" fill="url(#gl)"/>
<circle cx="416.90" cy="165.44" r="2.0" fill="url(#gl)"/>
<circle cx="422.58" cy="162.56" r="2.0" fill="url(#gl)"/>
<circle cx="428.27" cy="155.20" r="2.0" fill="url(#gl)"/>
<circle cx="433.95" cy="124.80" r="2.0" fill="url(#gl)"/>
<circle cx="439.64" cy="86.72" r="2.0" fill="url(#gl)"/>
<circle cx="445.33" cy="163.20" r="2.0" fill="url(#gl)"/>
<circle cx="451.01" cy="165.92" r="2.0" fill="url(#gl)"/>
<circle cx="456.70" cy="165.96" r="2.0" fill="url(#gl)"/>
<circle cx="462.38" cy="165.99" r="2.0" fill="url(#gl)"/>
<circle cx="468.07" cy="166.01" r="2.0" fill="url(#gl)"/>
<circle cx="473.76" cy="166.02" r="2.0" fill="url(#gl)"/>
<circle cx="479.44" cy="166.03" r="2.0" fill="url(#gl)"/>
<circle cx="485.13" cy="166.04" r="2.0" fill="url(#gl)"/>
<circle cx="490.81" cy="166.05" r="2.0" fill="url(#gl)"/>
<circle cx="496.50" cy="166.06" r="2.0" fill="url(#gl)"/>
<circle cx="502.19" cy="166.06" r="2.0" fill="url(#gl)"/>
<circle cx="316.25" cy="166.08" r="2.0" fill="url(#gd)"/>
<circle cx="321.94" cy="166.04" r="2.0" fill="url(#gd)"/>
<circle cx="327.63" cy="166.01" r="2.0" fill="url(#gd)"/>
<circle cx="333.31" cy="165.99" r="2.0" fill="url(#gd)"/>
<circle cx="339.00" cy="165.97" r="2.0" fill="url(#gd)"/>
<circle cx="344.68" cy="165.95" r="2.0" fill="url(#gd)"/>
<circle cx="350.37" cy="165.94" r="2.0" fill="url(#gd)"/>
<circle cx="356.06" cy="165.92" r="2.0" fill="url(#gd)"/>
<circle cx="361.74" cy="165.90" r="2.0" fill="url(#gd)"/>
<circle cx="367.43" cy="165.87" r="2.0" fill="url(#gd)"/>
<circle cx="373.11" cy="165.84" r="2.0" fill="url(#gd)"/>
<circle cx="378.80" cy="165.80" r="2.0" fill="url(#gd)"/>
<circle cx="384.49" cy="165.75" r="2.0" fill="url(#gd)"/>
<circle cx="390.17" cy="165.69" r="2.0" fill="url(#gd)"/>
<circle cx="395.86" cy="165.62" r="2.0" fill="url(#gd)"/>
<circle cx="401.54" cy="165.54" r="2.0" fill="url(#gd)"/>
<circle cx="407.23" cy="165.44" r="2.0" fill="url(#gd)"/>
<circle cx="412.92" cy="163.84" r="2.0" fill="url(#gd)"/>
<circle cx="418.60" cy="155.20" r="2.0" fill="url(#gd)"/>
<circle cx="424.29" cy="136.00" r="2.0" fill="url(#gd)"/>
<circle cx="429.97" cy="127.36" r="2.0" fill="url(#gd)"/>
<circle cx="435.66" cy="141.76" r="2.0" fill="url(#gd)"/>
<circle cx="441.35" cy="160.96" r="2.0" fill="url(#gd)"/>
<circle cx="447.03" cy="165.76" r="2.0" fill="url(#gd)"/>
<circle cx="452.72" cy="165.83" r="2.0" fill="url(#gd)"/>
<circle cx="458.40" cy="165.89" r="2.0" fill="url(#gd)"/>
<circle cx="464.09" cy="165.93" r="2.0" fill="url(#gd)"/>
<circle cx="469.78" cy="165.96" r="2.0" fill="url(#gd)"/>
<circle cx="475.46" cy="165.98" r="2.0" fill="url(#gd)"/>
<circle cx="481.15" cy="166.00" r="2.0" fill="url(#gd)"/>
<circle cx="486.83" cy="166.01" r="2.0" fill="url(#gd)"/>
<circle cx="492.52" cy="166.02" r="2.0" fill="url(#gd)"/>
<circle cx="498.21" cy="166.04" r="2.0" fill="url(#gd)"/>
<circle cx="503.89" cy="166.06" r="2.0" fill="url(#gd)"/>
<line x1="316.50" y1="165.90" x2="505.50" y2="165.90" stroke="#2828b8" stroke-width="0.8"/>
</g>
<rect x="323.60" y="15.10" width="4.8" height="4.8" fill="#fff" stroke="#777" stroke-width="0.8"/>
<line x1="315.10" y1="29.40" x2="336.90" y2="29.40" stroke="#aab" stroke-width="0.8"/>
<circle cx="326.00" cy="29.40" r="3.7" fill="url(#gl)"/>
<line x1="315.10" y1="41.20" x2="336.90" y2="41.20" stroke="#889" stroke-width="0.8"/>
<circle cx="326.00" cy="41.20" r="3.7" fill="url(#gd)"/>
<text x="338.8" y="20.4" font-size="6.6" text-anchor="start" fill="#1e1e1e" stroke="#1e1e1e" stroke-width="0.18" font-family='"Liberation Sans", sans-serif' font-weight="normal" textLength="17.5" lengthAdjust="spacingAndGlyphs" word-spacing="0.9">PA 66</text>
<text x="338.8" y="32.3" font-size="6.6" text-anchor="start" fill="#1e1e1e" stroke="#1e1e1e" stroke-width="0.18" font-family='"Liberation Sans", sans-serif' font-weight="normal" textLength="44.7" lengthAdjust="spacingAndGlyphs" word-spacing="0.9">PA 66+15% GF</text>
<text x="338.8" y="44.1" font-size="6.6" text-anchor="start" fill="#1e1e1e" stroke="#1e1e1e" stroke-width="0.18" font-family='"Liberation Sans", sans-serif' font-weight="normal" textLength="46.1" lengthAdjust="spacingAndGlyphs" word-spacing="0.9">PA 66 +25% GF</text>
<line x1="53.20" y1="205.30" x2="266.50" y2="205.30" stroke="#999" stroke-width="0.9"/>
<line x1="266.50" y1="205.30" x2="266.50" y2="365.50" stroke="#d0d0d0" stroke-width="0.8"/>
<line x1="53.20" y1="365.50" x2="266.50" y2="365.50" stroke="#8a8a8a" stroke-width="0.8"/>
<line x1="53.20" y1="205.30" x2="53.20" y2="365.50" stroke="#959595" stroke-width="1.0"/>
<line x1="52.80" y1="365.50" x2="52.80" y2="367.30" stroke="#999" stroke-width="0.6"/>
<line x1="67.05" y1="365.50" x2="67.05" y2="366.70" stroke="#999" stroke-width="0.6"/>
<line x1="81.31" y1="365.50" x2="81.31" y2="367.30" stroke="#999" stroke-width="0.6"/>
<line x1="95.56" y1="365.50" x2="95.56" y2="366.70" stroke="#999" stroke-width="0.6"/>
<line x1="109.82" y1="365.50" x2="109.82" y2="367.30" stroke="#999" stroke-width="0.6"/>
<line x1="124.08" y1="365.50" x2="124.08" y2="366.70" stroke="#999" stroke-width="0.6"/>
<line x1="138.33" y1="365.50" x2="138.33" y2="367.30" stroke="#999" stroke-width="0.6"/>
<line x1="152.59" y1="365.50" x2="152.59" y2="366.70" stroke="#999" stroke-width="0.6"/>
<line x1="166.84" y1="365.50" x2="166.84" y2="367.30" stroke="#999" stroke-width="0.6"/>
<line x1="181.10" y1="365.50" x2="181.10" y2="366.70" stroke="#999" stroke-width="0.6"/>
<line x1="195.35" y1="365.50" x2="195.35" y2="367.30" stroke="#999" stroke-width="0.6"/>
<line x1="209.61" y1="365.50" x2="209.61" y2="366.70" stroke="#999" stroke-width="0.6"/>
<line x1="223.86" y1="365.50" x2="223.86" y2="367.30" stroke="#999" stroke-width="0.6"/>
<line x1="238.12" y1="365.50" x2="238.12" y2="366.70" stroke="#999" stroke-width="0.6"/>
<line x1="252.37" y1="365.50" x2="252.37" y2="367.30" stroke="#999" stroke-width="0.6"/>
<line x1="266.62" y1="365.50" x2="266.62" y2="366.70" stroke="#999" stroke-width="0.6"/>
<text x="52.8" y="374.7" font-size="8.2" text-anchor="middle" fill="#222" stroke="#222" stroke-width="0.12" font-family='"Liberation Sans", sans-serif' font-weight="normal">0</text>
<text x="81.31" y="374.7" font-size="8.2" text-anchor="middle" fill="#222" stroke="#222" stroke-width="0.12" font-family='"Liberation Sans", sans-serif' font-weight="normal">100</text>
<text x="109.82" y="374.7" font-size="8.2" text-anchor="middle" fill="#222" stroke="#222" stroke-width="0.12" font-family='"Liberation Sans", sans-serif' font-weight="normal">200</text>
<text x="138.33" y="374.7" font-size="8.2" text-anchor="middle" fill="#222" stroke="#222" stroke-width="0.12" font-family='"Liberation Sans", sans-serif' font-weight="normal">300</text>
<text x="166.84" y="374.7" font-size="8.2" text-anchor="middle" fill="#222" stroke="#222" stroke-width="0.12" font-family='"Liberation Sans", sans-serif' font-weight="normal">400</text>
<text x="195.35" y="374.7" font-size="8.2" text-anchor="middle" fill="#222" stroke="#222" stroke-width="0.12" font-family='"Liberation Sans", sans-serif' font-weight="normal">500</text>
<text x="223.86" y="374.7" font-size="8.2" text-anchor="middle" fill="#222" stroke="#222" stroke-width="0.12" font-family='"Liberation Sans", sans-serif' font-weight="normal">600</text>
<text x="252.37" y="374.7" font-size="8.2" text-anchor="middle" fill="#222" stroke="#222" stroke-width="0.12" font-family='"Liberation Sans", sans-serif' font-weight="normal">700</text>
<line x1="51.40" y1="365.35" x2="53.20" y2="365.35" stroke="#777" stroke-width="0.6"/>
<text x="50.6" y="368.05" font-size="8.2" text-anchor="end" fill="#222" stroke="#222" stroke-width="0.12" font-family='"Liberation Sans", sans-serif' font-weight="normal">0</text>
<line x1="51.40" y1="336.10" x2="53.20" y2="336.10" stroke="#777" stroke-width="0.6"/>
<text x="50.6" y="338.8" font-size="8.2" text-anchor="end" fill="#222" stroke="#222" stroke-width="0.12" font-family='"Liberation Sans", sans-serif' font-weight="normal">20</text>
<line x1="51.40" y1="306.85" x2="53.20" y2="306.85" stroke="#777" stroke-width="0.6"/>
<text x="50.6" y="309.55" font-size="8.2" text-anchor="end" fill="#222" stroke="#222" stroke-width="0.12" font-family='"Liberation Sans", sans-serif' font-weight="normal">40</text>
<line x1="51.40" y1="277.60" x2="53.20" y2="277.60" stroke="#777" stroke-width="0.6"/>
<text x="50.6" y="280.3" font-size="8.2" text-anchor="end" fill="#222" stroke="#222" stroke-width="0.12" font-family='"Liberation Sans", sans-serif' font-weight="normal">60</text>
<line x1="51.40" y1="248.35" x2="53.20" y2="248.35" stroke="#777" stroke-width="0.6"/>
<text x="50.6" y="251.25" font-size="8.6" text-anchor="end" fill="#222" stroke="#222" stroke-width="0.3" font-family='"Liberation Serif", serif' font-weight="normal">80</text>
<line x1="51.40" y1="219.10" x2="53.20" y2="219.10" stroke="#777" stroke-width="0.6"/>
<text x="50.6" y="222.0" font-size="8.6" text-anchor="end" fill="#222" stroke="#222" stroke-width="0.3" font-family='"Liberation Serif", serif' font-weight="normal">100</text>
<line x1="52.10" y1="350.73" x2="53.20" y2="350.73" stroke="#999" stroke-width="0.5"/>
<line x1="52.10" y1="321.48" x2="53.20" y2="321.48" stroke="#999" stroke-width="0.5"/>
<line x1="52.10" y1="292.23" x2="53.20" y2="292.23" stroke="#999" stroke-width="0.5"/>
<line x1="52.10" y1="262.98" x2="53.20" y2="262.98" stroke="#999" stroke-width="0.5"/>
<line x1="52.10" y1="233.73" x2="53.20" y2="233.73" stroke="#999" stroke-width="0.5"/>
<line x1="98.70" y1="226.70" x2="217.30" y2="226.70" stroke="#7a7a7a" stroke-width="0.95" stroke-dasharray="1 1.2"/>
<text x="174.2" y="224.1" font-size="8.6" text-anchor="start" fill="#333" stroke="#333" stroke-width="0.1" font-family='"Liberation Sans", sans-serif' font-weight="normal" textLength="52.7" lengthAdjust="spacingAndGlyphs">5% weigth loss</text>
<text x="120.7" y="387.7" font-size="10.2" text-anchor="start" fill="#222" stroke="#222" stroke-width="0.3" font-family='"Liberation Sans", sans-serif' font-weight="normal" textLength="80" lengthAdjust="spacingAndGlyphs">Temperature (°C)</text>
<text x="40.8" y="328.0" font-size="10.4" text-anchor="start" fill="#222" stroke="#222" stroke-width="0.3" font-family='"Liberation Sans", sans-serif' font-weight="normal" textLength="71" lengthAdjust="spacingAndGlyphs" transform="rotate(-90 40.8 328.0)">Weigth loss (%)</text>
<text x="9.5" y="360.8" font-size="14" text-anchor="start" fill="#222" stroke="#222" stroke-width="0.3" font-family='"Liberation Sans", sans-serif' font-weight="normal" textLength="15.2" lengthAdjust="spacingAndGlyphs">(c)</text>
<polyline points="58.50,219.10 59.07,219.10 59.64,219.10 60.21,219.11 60.78,219.11 61.35,219.11 61.92,219.11 62.49,219.11 63.06,219.11 63.63,219.11 64.20,219.12 64.77,219.12 65.34,219.12 65.91,219.12 66.48,219.12 67.05,219.12 67.63,219.12 68.20,219.13 68.77,219.13 69.34,219.13 69.91,219.13 70.48,219.13 71.05,219.13 71.62,219.13 72.19,219.13 72.76,219.14 73.33,219.14 73.90,219.14 74.47,219.14 75.04,219.14 75.61,219.14 76.18,219.14 76.75,219.14 77.32,219.14 77.89,219.14 78.46,219.14 79.03,219.15 79.60,219.15 80.17,219.15 80.74,219.15 81.31,219.15 81.88,219.15 82.45,219.15 83.02,219.15 83.59,219.15 84.16,219.15 84.73,219.15 85.30,219.15 85.87,219.16 86.44,219.16 87.01,219.16 87.58,219.16 88.15,219.16 88.72,219.16 89.29,219.16 89.86,219.16 90.43,219.16 91.00,219.16 91.57,219.16 92.14,219.16 92.71,219.16 93.28,219.17 93.85,219.17 94.42,219.17 94.99,219.17 95.56,219.17 96.14,219.17 96.71,219.17 97.28,219.17 97.85,219.17 98.42,219.17 98.99,219.17 99.56,219.17 100.13,219.18 100.70,219.18 101.27,219.18 101.84,219.18 102.41,219.18 102.98,219.18 103.55,219.18 104.12,219.18 104.69,219.18 105.26,219.18 105.83,219.19 106.40,219.19 106.97,219.19 107.54,219.19 108.11,219.19 108.68,219.19 109.25,219.19 109.82,219.19 110.39,219.20 110.96,219.20 111.53,219.20 112.10,219.20 112.67,219.20 113.24,219.20 113.81,219.20 114.38,219.20 114.95,219.21 115.52,219.21 116.09,219.21 116.66,219.21 117.23,219.21 117.80,219.21 118.37,219.22 118.94,219.22 119.51,219.22 120.08,219.22 120.65,219.22 121.22,219.22 121.79,219.23 122.36,219.23 122.93,219.23 123.50,219.23 124.08,219.24 124.65,219.24 125.22,219.24 125.79,219.24 126.36,219.24 126.93,219.25 127.50,219.25 128.07,219.25 128.64,219.25 129.21,219.26 129.78,219.26 130.35,219.26 130.92,219.26 131.49,219.27 132.06,219.27 132.63,219.27 133.20,219.28 133.77,219.28 134.34,219.28 134.91,219.28 135.48,219.29 136.05,219.29 136.62,219.29 137.19,219.30 137.76,219.30 138.33,219.30 138.90,219.31 139.47,219.31 140.04,219.32 140.61,219.32 141.18,219.32 141.75,219.33 142.32,219.33 142.89,219.33 143.46,219.34 144.03,219.34 144.60,219.35 145.17,219.35 145.74,219.36 146.31,219.36 146.88,219.36 147.45,219.37 148.02,219.37 148.59,219.38 149.16,219.38 149.73,219.39 150.30,219.39 150.87,219.41 151.44,219.45 152.01,219.51 152.59,219.58 153.16,219.68 153.73,219.78 154.30,219.89 154.87,220.01 155.44,220.14 156.01,220.27 156.58,220.41 157.15,220.57 157.72,220.76 158.29,220.97 158.86,221.20 159.43,221.46 160.00,221.75 160.57,222.06 161.14,222.39 161.71,222.76 162.28,223.17 162.85,223.67 163.42,224.25 163.99,224.91 164.56,225.65 165.13,226.48 165.70,227.39 166.27,228.39 166.84,229.48 167.41,230.65 167.98,232.06 168.55,233.82 169.12,235.91 169.69,238.30 170.26,240.96 170.83,243.87 171.40,247.01 171.97,250.35 172.54,253.85 172.83,255.66 173.11,257.62 173.68,262.28 174.25,267.74 174.82,273.81 175.39,280.27 175.96,286.92 176.53,293.56 177.10,299.98 177.67,305.97 177.96,308.75 178.24,311.51 178.81,317.40 179.38,323.59 179.95,329.87 180.52,336.03 181.10,341.84 181.67,347.10 182.24,351.59 182.81,355.09 183.38,357.40 183.66,358.04 183.95,358.48 184.52,359.32 185.09,360.08 185.66,360.77 186.23,361.37 186.80,361.89 187.37,362.32 187.94,362.65 188.51,362.87 189.08,362.99 189.36,363.01 189.65,363.01 190.22,363.02 190.79,363.03 191.36,363.03 191.93,363.04 192.50,363.05 193.07,363.05 193.64,363.06 194.21,363.07 194.78,363.07 195.35,363.08 195.92,363.08 196.49,363.09 197.06,363.09 197.63,363.10 198.20,363.10 198.77,363.11 199.34,363.11 199.91,363.12 200.48,363.12 201.05,363.13 201.62,363.13 202.19,363.14 202.76,363.14 203.33,363.14 203.90,363.15 204.47,363.15 205.04,363.15 205.61,363.16 206.18,363.16 206.75,363.16 207.32,363.17 207.89,363.17 208.46,363.17 209.03,363.18 209.61,363.18 210.18,363.18 210.75,363.18 211.32,363.19 211.89,363.19 212.46,363.19 213.03,363.19 213.60,363.20 214.17,363.20 214.74,363.20 215.31,363.20 215.88,363.21 216.45,363.21 217.02,363.21 217.59,363.21 218.16,363.21 218.73,363.21 219.30,363.22 219.87,363.22 220.44,363.22 221.01,363.22 221.58,363.22 222.15,363.22 222.72,363.22 223.29,363.23 223.86,363.23 224.43,363.23 225.00,363.23 225.57,363.23 226.14,363.23 226.71,363.23 227.28,363.23 227.85,363.24 228.42,363.24 228.99,363.24 229.56,363.24 230.13,363.24 230.70,363.24 231.27,363.24 231.84,363.24 232.41,363.24 232.98,363.25 233.55,363.25 234.12,363.25 234.69,363.25 235.26,363.25 235.83,363.25 236.40,363.25 236.97,363.25 237.54,363.26 238.12,363.26 238.69,363.26 239.26,363.26 239.83,363.26 240.40,363.26 240.97,363.26 241.54,363.26 242.11,363.27 242.68,363.27 243.25,363.27 243.82,363.27 244.39,363.27 244.96,363.27 245.53,363.28 246.10,363.28 246.67,363.28 247.24,363.28 247.81,363.28 248.38,363.29 248.95,363.29 249.52,363.29 250.09,363.29 250.66,363.29 251.23,363.30 251.80,363.30 252.37,363.30" fill="none" stroke="#666" stroke-width="0.65" stroke-dasharray="1.3 1.3" opacity="1"/>
<polyline points="58.50,219.98 59.07,219.98 59.64,219.98 60.21,219.98 60.78,219.98 61.35,219.99 61.92,219.99 62.49,219.99 63.06,219.99 63.63,219.99 64.20,219.99 64.77,220.00 65.34,220.00 65.91,220.00 66.48,220.00 67.05,220.00 67.63,220.00 68.20,220.00 68.77,220.00 69.34,220.01 69.91,220.01 70.48,220.01 71.05,220.01 71.62,220.01 72.19,220.01 72.76,220.01 73.33,220.01 73.90,220.02 74.47,220.02 75.04,220.02 75.61,220.02 76.18,220.02 76.75,220.02 77.32,220.02 77.89,220.02 78.46,220.02 79.03,220.02 79.60,220.03 80.17,220.03 80.74,220.03 81.31,220.03 81.88,220.03 82.45,220.03 83.02,220.03 83.59,220.03 84.16,220.03 84.73,220.03 85.30,220.03 85.87,220.04 86.44,220.04 87.01,220.04 87.58,220.04 88.15,220.04 88.72,220.04 89.29,220.04 89.86,220.04 90.43,220.04 91.00,220.04 91.57,220.04 92.14,220.05 92.71,220.05 93.28,220.05 93.85,220.05 94.42,220.05 94.99,220.05 95.56,220.05 96.14,220.05 96.71,220.05 97.28,220.05 97.85,220.05 98.42,220.06 98.99,220.06 99.56,220.06 100.13,220.06 100.70,220.06 101.27,220.06 101.84,220.06 102.41,220.06 102.98,220.06 103.55,220.06 104.12,220.07 104.69,220.07 105.26,220.07 105.83,220.07 106.40,220.07 106.97,220.07 107.54,220.07 108.11,220.07 108.68,220.07 109.25,220.08 109.82,220.08 110.39,220.08 110.96,220.08 111.53,220.08 112.10,220.08 112.67,220.08 113.24,220.08 113.81,220.09 114.38,220.09 114.95,220.09 115.52,220.09 116.09,220.09 116.66,220.09 117.23,220.10 117.80,220.10 118.37,220.10 118.94,220.10 119.51,220.10 120.08,220.10 120.65,220.11 121.22,220.11 121.79,220.11 122.36,220.11 122.93,220.11 123.50,220.12 124.08,220.12 124.65,220.12 125.22,220.12 125.79,220.12 126.36,220.13 126.93,220.13 127.50,220.13 128.07,220.13 128.64,220.13 129.21,220.14 129.78,220.14 130.35,220.14 130.92,220.14 131.49,220.15 132.06,220.15 132.63,220.15 133.20,220.15 133.77,220.16 134.34,220.16 134.91,220.16 135.48,220.17 136.05,220.17 136.62,220.17 137.19,220.17 137.76,220.18 138.33,220.18 138.90,220.18 139.47,220.19 140.04,220.19 140.61,220.19 141.18,220.20 141.75,220.20 142.32,220.20 142.89,220.21 143.46,220.21 144.03,220.22 144.60,220.22 145.17,220.22 145.74,220.23 146.31,220.23 146.88,220.23 147.45,220.24 148.02,220.24 148.59,220.25 149.16,220.25 149.73,220.26 150.30,220.26 150.87,220.26 151.44,220.27 151.59,220.27 152.01,220.28 152.59,220.29 153.16,220.31 153.73,220.33 154.30,220.37 154.87,220.40 155.44,220.44 156.01,220.47 156.58,220.51 157.15,220.55 157.29,220.56 157.72,220.59 158.29,220.63 158.86,220.67 159.43,220.72 160.00,220.77 160.57,220.82 161.14,220.88 161.71,220.95 162.28,221.03 162.85,221.12 162.99,221.15 163.42,221.24 163.99,221.41 164.56,221.64 165.13,221.92 165.70,222.24 166.27,222.60 166.84,223.01 167.41,223.44 167.98,223.90 168.55,224.39 168.69,224.51 169.12,224.91 169.69,225.51 170.26,226.20 170.83,226.99 171.40,227.87 171.97,228.85 172.54,229.94 173.11,231.15 173.68,232.48 174.25,233.93 174.40,234.31 174.82,235.64 175.39,237.94 175.96,240.75 176.53,244.03 177.10,247.71 177.67,251.72 178.24,256.00 178.81,260.49 179.38,265.12 179.95,269.84 180.10,271.02 180.52,275.05 181.10,281.71 181.67,289.43 182.24,297.79 182.81,306.36 183.38,314.71 183.95,322.41 184.52,329.02 185.09,334.12 185.66,337.27 185.80,337.71 186.23,338.76 186.80,340.07 187.37,341.27 187.94,342.35 188.51,343.30 189.08,344.11 189.65,344.77 190.22,345.27 190.79,345.60 191.36,345.75 191.50,345.75 191.93,345.76 192.50,345.76 193.07,345.76 193.64,345.77 194.21,345.77 194.78,345.77 195.35,345.78 195.92,345.78 196.49,345.78 197.06,345.79 197.63,345.79 198.20,345.79 198.77,345.79 199.34,345.80 199.91,345.80 200.48,345.80 201.05,345.80 201.62,345.81 202.19,345.81 202.76,345.81 203.33,345.81 203.90,345.82 204.47,345.82 205.04,345.82 205.61,345.82 206.18,345.82 206.75,345.83 207.32,345.83 207.89,345.83 208.46,345.83 209.03,345.83 209.61,345.83 210.18,345.84 210.75,345.84 211.32,345.84 211.89,345.84 212.46,345.84 213.03,345.84 213.60,345.84 214.17,345.84 214.74,345.85 215.31,345.85 215.88,345.85 216.45,345.85 217.02,345.85 217.59,345.85 218.16,345.85 218.73,345.85 219.30,345.85 219.87,345.85 220.44,345.86 221.01,345.86 221.58,345.86 222.15,345.86 222.72,345.86 223.29,345.86 223.86,345.86 224.43,345.86 225.00,345.86 225.57,345.86 226.14,345.86 226.71,345.86 227.28,345.86 227.85,345.86 228.42,345.87 228.99,345.87 229.56,345.87 230.13,345.87 230.70,345.87 231.27,345.87 231.84,345.87 232.41,345.87 232.98,345.87 233.55,345.87 234.12,345.87 234.69,345.87 235.26,345.87 235.83,345.87 236.40,345.87 236.97,345.87 237.54,345.87 238.12,345.88 238.69,345.88 239.26,345.88 239.83,345.88 240.40,345.88 240.97,345.88 241.54,345.88 242.11,345.88 242.68,345.88 243.25,345.88 243.82,345.88 244.39,345.88 244.96,345.88 245.53,345.89 246.10,345.89 246.67,345.89 247.24,345.89 247.81,345.89 248.38,345.89 248.95,345.89 249.52,345.89 250.09,345.89 250.66,345.89 251.23,345.90 251.80,345.90 252.37,345.90" fill="none" stroke="#ee60e0" stroke-width="0.65" stroke-dasharray="1.3 1.3" opacity="1"/>
<polyline points="58.50,219.98 59.07,219.98 59.64,219.98 60.21,219.98 60.78,219.98 61.35,219.99 61.92,219.99 62.49,219.99 63.06,219.99 63.63,219.99 64.20,219.99 64.77,220.00 65.34,220.00 65.91,220.00 66.48,220.00 67.05,220.00 67.63,220.00 68.20,220.00 68.77,220.01 69.34,220.01 69.91,220.01 70.48,220.01 71.05,220.01 71.62,220.01 72.19,220.01 72.76,220.01 73.33,220.02 73.90,220.02 74.47,220.02 75.04,220.02 75.61,220.02 76.18,220.02 76.75,220.02 77.32,220.02 77.89,220.02 78.46,220.02 79.03,220.03 79.60,220.03 80.17,220.03 80.74,220.03 81.31,220.03 81.88,220.03 82.45,220.03 83.02,220.03 83.59,220.03 84.16,220.03 84.73,220.03 85.30,220.04 85.87,220.04 86.44,220.04 87.01,220.04 87.58,220.04 88.15,220.04 88.72,220.04 89.29,220.04 89.86,220.04 90.43,220.04 91.00,220.04 91.57,220.05 92.14,220.05 92.71,220.05 93.28,220.05 93.85,220.05 94.42,220.05 94.99,220.05 95.56,220.05 96.14,220.05 96.71,220.05 97.28,220.05 97.85,220.06 98.42,220.06 98.99,220.06 99.56,220.06 100.13,220.06 100.70,220.06 101.27,220.06 101.84,220.06 102.41,220.06 102.98,220.06 103.55,220.07 104.12,220.07 104.69,220.07 105.26,220.07 105.83,220.07 106.40,220.07 106.97,220.07 107.54,220.07 108.11,220.08 108.68,220.08 109.25,220.08 109.82,220.08 110.39,220.08 110.96,220.08 111.53,220.09 112.10,220.09 112.67,220.09 113.24,220.09 113.81,220.09 114.38,220.09 114.95,220.10 115.52,220.10 116.09,220.10 116.66,220.10 117.23,220.10 117.80,220.10 118.37,220.11 118.94,220.11 119.51,220.11 120.08,220.11 120.65,220.12 121.22,220.12 121.79,220.12 122.36,220.12 122.93,220.12 123.50,220.13 124.08,220.13 124.65,220.13 125.22,220.14 125.79,220.14 126.36,220.14 126.93,220.14 127.50,220.15 128.07,220.15 128.64,220.15 129.21,220.16 129.78,220.16 130.35,220.16 130.92,220.16 131.49,220.17 132.06,220.17 132.63,220.17 133.20,220.18 133.77,220.18 134.34,220.19 134.91,220.19 135.48,220.19 136.05,220.20 136.62,220.20 137.19,220.20 137.76,220.21 138.33,220.21 138.90,220.22 139.47,220.22 140.04,220.23 140.61,220.23 141.18,220.23 141.75,220.24 142.32,220.24 142.89,220.25 143.46,220.25 144.03,220.26 144.60,220.26 145.17,220.27 145.46,220.27 145.74,220.27 146.31,220.30 146.88,220.33 147.45,220.38 148.02,220.43 148.59,220.50 149.16,220.57 149.73,220.65 150.30,220.73 150.87,220.81 151.16,220.86 151.44,220.90 152.01,220.99 152.59,221.09 153.16,221.21 153.73,221.34 154.30,221.48 154.87,221.64 155.44,221.81 156.01,222.00 156.58,222.21 156.86,222.32 157.15,222.44 157.72,222.72 158.29,223.07 158.86,223.47 159.43,223.92 160.00,224.44 160.57,225.01 161.14,225.63 161.71,226.31 162.28,227.05 162.56,227.44 162.85,227.86 163.42,228.90 163.99,230.17 164.56,231.65 165.13,233.30 165.70,235.12 166.27,237.07 166.84,239.14 167.41,241.30 167.98,243.52 168.55,245.99 169.12,248.84 169.69,252.01 170.26,255.43 170.83,259.03 171.40,262.75 171.97,266.52 172.54,270.27 173.11,273.94 173.68,277.45 174.25,280.98 174.82,284.67 175.39,288.46 175.96,292.29 176.53,296.09 177.10,299.79 177.67,303.34 178.24,306.67 178.81,309.71 179.38,312.39 179.67,313.58 179.95,314.71 180.52,317.00 181.10,319.25 181.67,321.44 182.24,323.50 182.81,325.39 183.38,327.06 183.95,328.47 184.52,329.57 185.09,330.32 185.37,330.54 185.66,330.71 186.23,331.03 186.80,331.32 187.37,331.58 187.94,331.82 188.51,332.02 189.08,332.18 189.65,332.31 190.22,332.39 190.79,332.44 191.07,332.44 191.36,332.44 191.93,332.44 192.50,332.44 193.07,332.44 193.64,332.44 194.21,332.44 194.78,332.44 195.35,332.44 195.92,332.44 196.49,332.44 197.06,332.44 197.63,332.44 198.20,332.44 198.77,332.44 199.34,332.44 199.91,332.44 200.48,332.44 201.05,332.44 201.62,332.44 202.19,332.44 202.76,332.44 203.33,332.44 203.90,332.44 204.47,332.44 205.04,332.44 205.61,332.44 206.18,332.44 206.75,332.44 207.32,332.44 207.89,332.44 208.46,332.44 209.03,332.44 209.61,332.44 210.18,332.44 210.75,332.44 211.32,332.44 211.89,332.44 212.46,332.44 213.03,332.44 213.60,332.44 214.17,332.44 214.74,332.44 215.31,332.44 215.88,332.44 216.45,332.44 217.02,332.44 217.59,332.44 218.16,332.44 218.73,332.44 219.30,332.44 219.87,332.44 220.44,332.44 221.01,332.44 221.58,332.44 222.15,332.44 222.72,332.44 223.29,332.44 223.86,332.44 224.43,332.44 225.00,332.44 225.57,332.44 226.14,332.44 226.71,332.44 227.28,332.44 227.85,332.44 228.42,332.44 228.99,332.44 229.56,332.44 230.13,332.44 230.70,332.44 231.27,332.44 231.84,332.44 232.41,332.44 232.98,332.44 233.55,332.44 234.12,332.44 234.69,332.44 235.26,332.44 235.83,332.44 236.40,332.44 236.97,332.44 237.54,332.44 238.12,332.44 238.69,332.44 239.26,332.44 239.83,332.44 240.40,332.44 240.97,332.44 241.54,332.44 242.11,332.44 242.68,332.44 243.25,332.44 243.82,332.44 244.39,332.44 244.96,332.44 245.53,332.44 246.10,332.44 246.67,332.44 247.24,332.44 247.81,332.44 248.38,332.44 248.95,332.44 249.52,332.44 250.09,332.44 250.66,332.44 251.23,332.44 251.80,332.44 252.37,332.44" fill="none" stroke="#7a5a78" stroke-width="0.65" stroke-dasharray="1.3 1.3" opacity="1"/>
<rect x="165.71" y="228.95" width="3.4" height="3.4" fill="#fff" stroke="#666" stroke-width="0.6"/>
<rect x="171.13" y="253.96" width="3.4" height="3.4" fill="#fff" stroke="#666" stroke-width="0.6"/>
<rect x="176.26" y="307.05" width="3.4" height="3.4" fill="#fff" stroke="#666" stroke-width="0.6"/>
<rect x="187.96" y="361.61" width="2.8" height="2.8" fill="#fff" stroke="#888" stroke-width="0.6"/>
<rect x="193.66" y="361.67" width="2.8" height="2.8" fill="#fff" stroke="#888" stroke-width="0.6"/>
<rect x="199.37" y="361.72" width="2.8" height="2.8" fill="#fff" stroke="#888" stroke-width="0.6"/>
<rect x="205.07" y="361.76" width="2.8" height="2.8" fill="#fff" stroke="#888" stroke-width="0.6"/>
<rect x="210.77" y="361.79" width="2.8" height="2.8" fill="#fff" stroke="#888" stroke-width="0.6"/>
<rect x="216.47" y="361.81" width="2.8" height="2.8" fill="#fff" stroke="#888" stroke-width="0.6"/>
<rect x="222.17" y="361.83" width="2.8" height="2.8" fill="#fff" stroke="#888" stroke-width="0.6"/>
<rect x="227.88" y="361.84" width="2.8" height="2.8" fill="#fff" stroke="#888" stroke-width="0.6"/>
<rect x="233.58" y="361.85" width="2.8" height="2.8" fill="#fff" stroke="#888" stroke-width="0.6"/>
<rect x="239.28" y="361.86" width="2.8" height="2.8" fill="#fff" stroke="#888" stroke-width="0.6"/>
<rect x="244.98" y="361.88" width="2.8" height="2.8" fill="#fff" stroke="#888" stroke-width="0.6"/>
<path d="M59.93,217.08 L60.78,218.81 L62.69,219.09 L61.31,220.43 L61.63,222.33 L59.93,221.43 L58.22,222.33 L58.55,220.43 L57.17,219.09 L59.08,218.81Z" fill="#860c84"/>
<path d="M65.63,217.10 L66.48,218.83 L68.39,219.10 L67.01,220.45 L67.33,222.34 L65.63,221.45 L63.92,222.34 L64.25,220.45 L62.87,219.10 L64.78,218.83Z" fill="#860c84"/>
<path d="M71.33,217.11 L72.18,218.84 L74.09,219.12 L72.71,220.46 L73.04,222.36 L71.33,221.46 L69.63,222.36 L69.95,220.46 L68.57,219.12 L70.48,218.84Z" fill="#860c84"/>
<path d="M77.03,217.12 L77.89,218.85 L79.79,219.13 L78.41,220.47 L78.74,222.37 L77.03,221.47 L75.33,222.37 L75.65,220.47 L74.28,219.13 L76.18,218.85Z" fill="#860c84"/>
<path d="M82.74,217.13 L83.59,218.86 L85.49,219.14 L84.11,220.48 L84.44,222.38 L82.74,221.48 L81.03,222.38 L81.36,220.48 L79.98,219.14 L81.88,218.86Z" fill="#860c84"/>
<path d="M88.44,217.14 L89.29,218.87 L91.20,219.14 L89.82,220.49 L90.14,222.39 L88.44,221.49 L86.73,222.39 L87.06,220.49 L85.68,219.14 L87.59,218.87Z" fill="#860c84"/>
<path d="M94.14,217.15 L94.99,218.88 L96.90,219.15 L95.52,220.50 L95.84,222.40 L94.14,221.50 L92.43,222.40 L92.76,220.50 L91.38,219.15 L93.29,218.88Z" fill="#860c84"/>
<path d="M99.84,217.16 L100.69,218.89 L102.60,219.16 L101.22,220.51 L101.55,222.40 L99.84,221.51 L98.14,222.40 L98.46,220.51 L97.08,219.16 L98.99,218.89Z" fill="#860c84"/>
<path d="M105.54,217.17 L106.40,218.90 L108.30,219.17 L106.92,220.52 L107.25,222.42 L105.54,221.52 L103.84,222.42 L104.16,220.52 L102.79,219.17 L104.69,218.90Z" fill="#860c84"/>
<path d="M111.25,217.18 L112.10,218.91 L114.00,219.19 L112.62,220.53 L112.95,222.43 L111.25,221.53 L109.54,222.43 L109.87,220.53 L108.49,219.19 L110.39,218.91Z" fill="#860c84"/>
<path d="M116.95,217.20 L117.80,218.93 L119.71,219.21 L118.33,220.55 L118.65,222.45 L116.95,221.55 L115.24,222.45 L115.57,220.55 L114.19,219.21 L116.10,218.93Z" fill="#860c84"/>
<path d="M122.65,217.22 L123.50,218.95 L125.41,219.23 L124.03,220.57 L124.35,222.47 L122.65,221.57 L120.94,222.47 L121.27,220.57 L119.89,219.23 L121.80,218.95Z" fill="#860c84"/>
<path d="M128.35,217.25 L129.20,218.98 L131.11,219.25 L129.73,220.60 L130.06,222.50 L128.35,221.60 L126.65,222.50 L126.97,220.60 L125.59,219.25 L127.50,218.98Z" fill="#860c84"/>
<path d="M134.05,217.28 L134.91,219.01 L136.81,219.29 L135.43,220.63 L135.76,222.53 L134.05,221.63 L132.35,222.53 L132.67,220.63 L131.30,219.29 L133.20,219.01Z" fill="#860c84"/>
<path d="M139.76,217.32 L140.61,219.05 L142.51,219.33 L141.13,220.67 L141.46,222.57 L139.76,221.67 L138.05,222.57 L138.38,220.67 L137.00,219.33 L138.90,219.05Z" fill="#860c84"/>
<path d="M145.46,217.37 L146.31,219.10 L148.22,219.37 L146.84,220.72 L147.16,222.62 L145.46,221.72 L143.75,222.62 L144.08,220.72 L142.70,219.37 L144.61,219.10Z" fill="#860c84"/>
<path d="M151.16,217.96 L152.01,219.68 L153.92,219.96 L152.54,221.30 L152.86,223.20 L151.16,222.31 L149.45,223.20 L149.78,221.30 L148.40,219.96 L150.31,219.68Z" fill="#860c84"/>
<path d="M156.86,219.42 L157.71,221.14 L159.62,221.42 L158.24,222.77 L158.57,224.66 L156.86,223.77 L155.16,224.66 L155.48,222.77 L154.10,221.42 L156.01,221.14Z" fill="#860c84"/>
<path d="M162.56,224.54 L163.42,226.26 L165.32,226.54 L163.94,227.88 L164.27,229.78 L162.56,228.89 L160.86,229.78 L161.18,227.88 L159.81,226.54 L161.71,226.26Z" fill="#860c84"/>
<path d="M168.27,241.81 L169.12,243.53 L171.02,243.81 L169.64,245.15 L169.97,247.05 L168.27,246.16 L166.56,247.05 L166.89,245.15 L165.51,243.81 L167.41,243.53Z" fill="#860c84"/>
<path d="M173.97,276.29 L174.82,278.02 L176.73,278.29 L175.35,279.64 L175.67,281.54 L173.97,280.64 L172.26,281.54 L172.59,279.64 L171.21,278.29 L173.12,278.02Z" fill="#860c84"/>
<path d="M179.67,310.68 L180.52,312.40 L182.43,312.68 L181.05,314.03 L181.37,315.92 L179.67,315.03 L177.96,315.92 L178.29,314.03 L176.91,312.68 L178.82,312.40Z" fill="#860c84"/>
<path d="M185.37,327.64 L186.22,329.37 L188.13,329.65 L186.75,330.99 L187.08,332.89 L185.37,331.99 L183.67,332.89 L183.99,330.99 L182.61,329.65 L184.52,329.37Z" fill="#860c84"/>
<path d="M191.07,329.54 L191.93,331.27 L193.83,331.55 L192.45,332.89 L192.78,334.79 L191.07,333.89 L189.37,334.79 L189.69,332.89 L188.32,331.55 L190.22,331.27Z" fill="#860c84"/>
<path d="M196.78,329.54 L197.63,331.27 L199.53,331.55 L198.15,332.89 L198.48,334.79 L196.78,333.89 L195.07,334.79 L195.40,332.89 L194.02,331.55 L195.92,331.27Z" fill="#860c84"/>
<path d="M202.48,329.54 L203.33,331.27 L205.24,331.55 L203.86,332.89 L204.18,334.79 L202.48,333.89 L200.77,334.79 L201.10,332.89 L199.72,331.55 L201.63,331.27Z" fill="#860c84"/>
<path d="M208.18,329.54 L209.03,331.27 L210.94,331.55 L209.56,332.89 L209.88,334.79 L208.18,333.89 L206.47,334.79 L206.80,332.89 L205.42,331.55 L207.33,331.27Z" fill="#860c84"/>
<path d="M213.88,329.54 L214.73,331.27 L216.64,331.55 L215.26,332.89 L215.59,334.79 L213.88,333.89 L212.18,334.79 L212.50,332.89 L211.12,331.55 L213.03,331.27Z" fill="#860c84"/>
<path d="M219.58,329.54 L220.44,331.27 L222.34,331.55 L220.96,332.89 L221.29,334.79 L219.58,333.89 L217.88,334.79 L218.20,332.89 L216.83,331.55 L218.73,331.27Z" fill="#860c84"/>
<path d="M225.29,329.54 L226.14,331.27 L228.04,331.55 L226.66,332.89 L226.99,334.79 L225.29,333.89 L223.58,334.79 L223.91,332.89 L222.53,331.55 L224.43,331.27Z" fill="#860c84"/>
<path d="M230.99,329.54 L231.84,331.27 L233.75,331.55 L232.37,332.89 L232.69,334.79 L230.99,333.89 L229.28,334.79 L229.61,332.89 L228.23,331.55 L230.14,331.27Z" fill="#860c84"/>
<path d="M236.69,329.54 L237.54,331.27 L239.45,331.55 L238.07,332.89 L238.39,334.79 L236.69,333.89 L234.98,334.79 L235.31,332.89 L233.93,331.55 L235.84,331.27Z" fill="#860c84"/>
<path d="M242.39,329.54 L243.24,331.27 L245.15,331.55 L243.77,332.89 L244.10,334.79 L242.39,333.89 L240.69,334.79 L241.01,332.89 L239.63,331.55 L241.54,331.27Z" fill="#860c84"/>
<path d="M248.09,329.54 L248.95,331.27 L250.85,331.55 L249.47,332.89 L249.80,334.79 L248.09,333.89 L246.39,334.79 L246.71,332.89 L245.34,331.55 L247.24,331.27Z" fill="#860c84"/>
<path d="M60.36,216.98 L61.24,218.77 L63.21,219.06 L61.78,220.45 L62.12,222.41 L60.36,221.48 L58.59,222.41 L58.93,220.45 L57.50,219.06 L59.47,218.77Z" fill="#ff10f8" opacity="0.4"/>
<path d="M66.06,217.00 L66.94,218.78 L68.91,219.07 L67.48,220.46 L67.82,222.43 L66.06,221.50 L64.29,222.43 L64.63,220.46 L63.20,219.07 L65.18,218.78Z" fill="#ff10f8" opacity="0.4"/>
<path d="M71.76,217.01 L72.64,218.80 L74.61,219.08 L73.19,220.47 L73.52,222.44 L71.76,221.51 L70.00,222.44 L70.33,220.47 L68.91,219.08 L70.88,218.80Z" fill="#ff10f8" opacity="0.4"/>
<path d="M77.46,217.02 L78.34,218.81 L80.31,219.10 L78.89,220.49 L79.22,222.45 L77.46,221.52 L75.70,222.45 L76.03,220.49 L74.61,219.10 L76.58,218.81Z" fill="#ff10f8" opacity="0.4"/>
<path d="M83.16,217.03 L84.04,218.82 L86.02,219.10 L84.59,220.50 L84.93,222.46 L83.16,221.53 L81.40,222.46 L81.74,220.50 L80.31,219.10 L82.28,218.82Z" fill="#ff10f8" opacity="0.4"/>
<path d="M88.87,217.04 L89.75,218.83 L91.72,219.11 L90.29,220.50 L90.63,222.47 L88.87,221.54 L87.10,222.47 L87.44,220.50 L86.01,219.11 L87.98,218.83Z" fill="#ff10f8" opacity="0.4"/>
<path d="M94.57,217.05 L95.45,218.84 L97.42,219.12 L95.99,220.51 L96.33,222.48 L94.57,221.55 L92.80,222.48 L93.14,220.51 L91.71,219.12 L93.69,218.84Z" fill="#ff10f8" opacity="0.4"/>
<path d="M100.27,217.06 L101.15,218.84 L103.12,219.13 L101.70,220.52 L102.03,222.49 L100.27,221.56 L98.51,222.49 L98.84,220.52 L97.42,219.13 L99.39,218.84Z" fill="#ff10f8" opacity="0.4"/>
<path d="M105.97,217.07 L106.85,218.86 L108.82,219.14 L107.40,220.53 L107.73,222.50 L105.97,221.57 L104.21,222.50 L104.54,220.53 L103.12,219.14 L105.09,218.86Z" fill="#ff10f8" opacity="0.4"/>
<path d="M111.67,217.08 L112.55,218.87 L114.53,219.15 L113.10,220.54 L113.44,222.51 L111.67,221.58 L109.91,222.51 L110.25,220.54 L108.82,219.15 L110.79,218.87Z" fill="#ff10f8" opacity="0.4"/>
<path d="M117.38,217.10 L118.26,218.88 L120.23,219.17 L118.80,220.56 L119.14,222.52 L117.38,221.60 L115.61,222.52 L115.95,220.56 L114.52,219.17 L116.49,218.88Z" fill="#ff10f8" opacity="0.4"/>
<path d="M123.08,217.11 L123.96,218.90 L125.93,219.19 L124.50,220.58 L124.84,222.54 L123.08,221.61 L121.31,222.54 L121.65,220.58 L120.22,219.19 L122.20,218.90Z" fill="#ff10f8" opacity="0.4"/>
<path d="M128.78,217.14 L129.66,218.92 L131.63,219.21 L130.21,220.60 L130.54,222.56 L128.78,221.64 L127.02,222.56 L127.35,220.60 L125.93,219.21 L127.90,218.92Z" fill="#ff10f8" opacity="0.4"/>
<path d="M134.48,217.16 L135.36,218.95 L137.33,219.23 L135.91,220.62 L136.24,222.59 L134.48,221.66 L132.72,222.59 L133.05,220.62 L131.63,219.23 L133.60,218.95Z" fill="#ff10f8" opacity="0.4"/>
<path d="M140.18,217.19 L141.06,218.98 L143.04,219.26 L141.61,220.65 L141.95,222.62 L140.18,221.69 L138.42,222.62 L138.76,220.65 L137.33,219.26 L139.30,218.98Z" fill="#ff10f8" opacity="0.4"/>
<path d="M145.89,217.23 L146.77,219.01 L148.74,219.30 L147.31,220.69 L147.65,222.65 L145.89,221.73 L144.12,222.65 L144.46,220.69 L143.03,219.30 L145.00,219.01Z" fill="#ff10f8" opacity="0.4"/>
<path d="M151.59,217.27 L152.47,219.06 L154.44,219.34 L153.01,220.73 L153.35,222.70 L151.59,221.77 L149.82,222.70 L150.16,220.73 L148.73,219.34 L150.71,219.06Z" fill="#ff10f8"/>
<path d="M157.29,217.56 L158.17,219.35 L160.14,219.64 L158.72,221.03 L159.05,222.99 L157.29,222.06 L155.53,222.99 L155.86,221.03 L154.44,219.64 L156.41,219.35Z" fill="#ff10f8"/>
<path d="M162.99,218.15 L163.87,219.93 L165.84,220.22 L164.42,221.61 L164.75,223.57 L162.99,222.65 L161.23,223.57 L161.56,221.61 L160.14,220.22 L162.11,219.93Z" fill="#ff10f8"/>
<path d="M168.69,221.51 L169.57,223.30 L171.55,223.58 L170.12,224.97 L170.46,226.94 L168.69,226.01 L166.93,226.94 L167.27,224.97 L165.84,223.58 L167.81,223.30Z" fill="#ff10f8"/>
<path d="M174.40,231.31 L175.28,233.10 L177.25,233.38 L175.82,234.77 L176.16,236.74 L174.40,235.81 L172.63,236.74 L172.97,234.77 L171.54,233.38 L173.51,233.10Z" fill="#ff10f8"/>
<path d="M180.10,268.02 L180.98,269.81 L182.95,270.09 L181.52,271.48 L181.86,273.45 L180.10,272.52 L178.33,273.45 L178.67,271.48 L177.24,270.09 L179.22,269.81Z" fill="#ff10f8"/>
<path d="M185.80,334.71 L186.68,336.50 L188.65,336.78 L187.23,338.17 L187.56,340.14 L185.80,339.21 L184.04,340.14 L184.37,338.17 L182.95,336.78 L184.92,336.50Z" fill="#ff10f8"/>
<path d="M191.50,342.75 L192.38,344.54 L194.35,344.83 L192.93,346.22 L193.26,348.18 L191.50,347.25 L189.74,348.18 L190.07,346.22 L188.65,344.83 L190.62,344.54Z" fill="#ff10f8"/>
<path d="M197.20,342.79 L198.08,344.57 L200.06,344.86 L198.63,346.25 L198.97,348.21 L197.20,347.29 L195.44,348.21 L195.78,346.25 L194.35,344.86 L196.32,344.57Z" fill="#ff10f8"/>
<path d="M202.91,342.81 L203.79,344.60 L205.76,344.88 L204.33,346.28 L204.67,348.24 L202.91,347.31 L201.14,348.24 L201.48,346.28 L200.05,344.88 L202.02,344.60Z" fill="#ff10f8"/>
<path d="M208.61,342.83 L209.49,344.62 L211.46,344.90 L210.03,346.29 L210.37,348.26 L208.61,347.33 L206.84,348.26 L207.18,346.29 L205.75,344.90 L207.73,344.62Z" fill="#ff10f8"/>
<path d="M214.31,342.84 L215.19,344.63 L217.16,344.92 L215.74,346.31 L216.07,348.27 L214.31,347.34 L212.55,348.27 L212.88,346.31 L211.46,344.92 L213.43,344.63Z" fill="#ff10f8"/>
<path d="M220.01,342.85 L220.89,344.64 L222.86,344.93 L221.44,346.32 L221.77,348.28 L220.01,347.35 L218.25,348.28 L218.58,346.32 L217.16,344.93 L219.13,344.64Z" fill="#ff10f8"/>
<path d="M225.71,342.86 L226.59,344.65 L228.57,344.94 L227.14,346.33 L227.48,348.29 L225.71,347.36 L223.95,348.29 L224.29,346.33 L222.86,344.94 L224.83,344.65Z" fill="#ff10f8"/>
<path d="M231.42,342.87 L232.30,344.65 L234.27,344.94 L232.84,346.33 L233.18,348.30 L231.42,347.37 L229.65,348.30 L229.99,346.33 L228.56,344.94 L230.53,344.65Z" fill="#ff10f8"/>
<path d="M237.12,342.87 L238.00,344.66 L239.97,344.95 L238.54,346.34 L238.88,348.30 L237.12,347.37 L235.35,348.30 L235.69,346.34 L234.26,344.95 L236.24,344.66Z" fill="#ff10f8"/>
<path d="M242.82,342.88 L243.70,344.67 L245.67,344.95 L244.25,346.34 L244.58,348.31 L242.82,347.38 L241.06,348.31 L241.39,346.34 L239.97,344.95 L241.94,344.67Z" fill="#ff10f8"/>
<path d="M248.52,342.89 L249.40,344.68 L251.37,344.96 L249.95,346.35 L250.28,348.32 L248.52,347.39 L246.76,348.32 L247.09,346.35 L245.67,344.96 L247.64,344.68Z" fill="#ff10f8"/>
<rect x="65.90" y="331.50" width="6.0" height="6.0" fill="#fff" stroke="#555" stroke-width="0.8"/>
<line x1="59.50" y1="345.10" x2="78.40" y2="345.10" stroke="#f080e8" stroke-width="0.8"/>
<path d="M68.90,340.10 L70.37,343.08 L73.66,343.55 L71.28,345.87 L71.84,349.15 L68.90,347.60 L65.96,349.15 L66.52,345.87 L64.14,343.55 L67.43,343.08Z" fill="#ff10f8"/>
<line x1="59.50" y1="355.10" x2="78.40" y2="355.10" stroke="#b080b0" stroke-width="0.8"/>
<path d="M68.90,350.30 L70.31,353.16 L73.47,353.62 L71.18,355.84 L71.72,358.98 L68.90,357.50 L66.08,358.98 L66.62,355.84 L64.33,353.62 L67.49,353.16Z" fill="#860c84"/>
<text x="79.8" y="337.5" font-size="6.3" text-anchor="start" fill="#1e1e1e" stroke="#1e1e1e" stroke-width="0.18" font-family='"Liberation Sans", sans-serif' font-weight="normal" textLength="17.9" lengthAdjust="spacingAndGlyphs" word-spacing="0.9">PA 66</text>
<text x="79.8" y="347.9" font-size="6.3" text-anchor="start" fill="#1e1e1e" stroke="#1e1e1e" stroke-width="0.18" font-family='"Liberation Sans", sans-serif' font-weight="normal" textLength="42.9" lengthAdjust="spacingAndGlyphs" word-spacing="0.9">PA 66+15% BF</text>
<text x="79.8" y="357.9" font-size="6.3" text-anchor="start" fill="#1e1e1e" stroke="#1e1e1e" stroke-width="0.18" font-family='"Liberation Sans", sans-serif' font-weight="normal" textLength="45.8" lengthAdjust="spacingAndGlyphs" word-spacing="0.9">PA 66 +25% BF</text>
<line x1="308.00" y1="203.70" x2="521.50" y2="203.70" stroke="#b4b4b4" stroke-width="0.9"/>
<line x1="521.50" y1="203.70" x2="521.50" y2="364.50" stroke="#7a7a7a" stroke-width="0.8"/>
<line x1="308.00" y1="203.70" x2="308.00" y2="364.50" stroke="#aaaaaa" stroke-width="1.0"/>
<text x="308.1" y="373.6" font-size="9.0" text-anchor="middle" fill="#222" stroke="#222" stroke-width="0.25" font-family='"Liberation Serif", serif' font-weight="normal">0</text>
<text x="336.53" y="373.6" font-size="9.0" text-anchor="middle" fill="#222" stroke="#222" stroke-width="0.25" font-family='"Liberation Serif", serif' font-weight="normal">100</text>
<text x="364.96" y="373.6" font-size="9.0" text-anchor="middle" fill="#222" stroke="#222" stroke-width="0.25" font-family='"Liberation Serif", serif' font-weight="normal">200</text>
<text x="393.39" y="373.6" font-size="8.2" text-anchor="middle" fill="#222" stroke="#222" stroke-width="0.12" font-family='"Liberation Sans", sans-serif' font-weight="normal">300</text>
<text x="421.82" y="373.6" font-size="8.2" text-anchor="middle" fill="#222" stroke="#222" stroke-width="0.12" font-family='"Liberation Sans", sans-serif' font-weight="normal">400</text>
<text x="450.25" y="373.6" font-size="8.2" text-anchor="middle" fill="#222" stroke="#222" stroke-width="0.12" font-family='"Liberation Sans", sans-serif' font-weight="normal">500</text>
<text x="478.68" y="373.6" font-size="8.2" text-anchor="middle" fill="#222" stroke="#222" stroke-width="0.12" font-family='"Liberation Sans", sans-serif' font-weight="normal">600</text>
<text x="507.11" y="373.6" font-size="8.2" text-anchor="middle" fill="#222" stroke="#222" stroke-width="0.12" font-family='"Liberation Sans", sans-serif' font-weight="normal">700</text>
<line x1="306.20" y1="363.25" x2="308.00" y2="363.25" stroke="#777" stroke-width="0.6"/>
<text x="305.4" y="366.25" font-size="8.6" text-anchor="end" fill="#222" stroke="#222" stroke-width="0.12" font-family='"Liberation Sans", sans-serif' font-weight="normal">0</text>
<line x1="306.20" y1="331.20" x2="308.00" y2="331.20" stroke="#777" stroke-width="0.6"/>
<text x="305.4" y="334.2" font-size="8.6" text-anchor="end" fill="#222" stroke="#222" stroke-width="0.12" font-family='"Liberation Sans", sans-serif' font-weight="normal">1</text>
<line x1="306.20" y1="299.15" x2="308.00" y2="299.15" stroke="#777" stroke-width="0.6"/>
<text x="305.4" y="302.15" font-size="8.6" text-anchor="end" fill="#222" stroke="#222" stroke-width="0.12" font-family='"Liberation Sans", sans-serif' font-weight="normal">2</text>
<line x1="306.20" y1="267.10" x2="308.00" y2="267.10" stroke="#777" stroke-width="0.6"/>
<text x="305.4" y="270.1" font-size="8.6" text-anchor="end" fill="#222" stroke="#222" stroke-width="0.12" font-family='"Liberation Sans", sans-serif' font-weight="normal">3</text>
<line x1="306.20" y1="235.05" x2="308.00" y2="235.05" stroke="#777" stroke-width="0.6"/>
<text x="305.4" y="238.05" font-size="8.6" text-anchor="end" fill="#222" stroke="#222" stroke-width="0.12" font-family='"Liberation Sans", sans-serif' font-weight="normal">4</text>
<line x1="306.20" y1="203.00" x2="308.00" y2="203.00" stroke="#777" stroke-width="0.6"/>
<text x="305.4" y="206.0" font-size="8.6" text-anchor="end" fill="#222" stroke="#222" stroke-width="0.12" font-family='"Liberation Sans", sans-serif' font-weight="normal">5</text>
<line x1="306.90" y1="347.23" x2="308.00" y2="347.23" stroke="#999" stroke-width="0.5"/>
<line x1="306.90" y1="315.18" x2="308.00" y2="315.18" stroke="#999" stroke-width="0.5"/>
<line x1="306.90" y1="283.12" x2="308.00" y2="283.12" stroke="#999" stroke-width="0.5"/>
<line x1="306.90" y1="251.08" x2="308.00" y2="251.08" stroke="#999" stroke-width="0.5"/>
<line x1="306.90" y1="219.03" x2="308.00" y2="219.03" stroke="#999" stroke-width="0.5"/>
<text x="375.7" y="387.7" font-size="10.2" text-anchor="start" fill="#222" stroke="#222" stroke-width="0.3" font-family='"Liberation Sans", sans-serif' font-weight="normal" textLength="80.5" lengthAdjust="spacingAndGlyphs">Temperature (°C)</text>
<text x="287.0" y="336.5" font-size="9.6" text-anchor="start" fill="#222" stroke="#222" stroke-width="0.3" font-family='"Liberation Sans", sans-serif' font-weight="normal" textLength="91.4" lengthAdjust="spacingAndGlyphs" transform="rotate(-90 287.0 336.5)">Deriv. weight (%/°C)</text>
<text x="532.8" y="361.4" font-size="14" text-anchor="start" fill="#222" stroke="#222" stroke-width="0.3" font-family='"Liberation Sans", sans-serif' font-weight="normal" textLength="15.6" lengthAdjust="spacingAndGlyphs">(d)</text>
<g clip-path="url(#cd)">
<polyline points="313.79,362.93 314.35,362.93 314.92,362.93 315.49,362.92 316.06,362.92 316.63,362.92 317.20,362.92 317.77,362.92 318.33,362.91 318.90,362.91 319.47,362.91 320.04,362.91 320.61,362.91 321.18,362.91 321.75,362.91 322.31,362.90 322.88,362.90 323.45,362.90 324.02,362.90 324.59,362.90 325.16,362.90 325.73,362.90 326.30,362.89 326.86,362.89 327.43,362.89 328.00,362.89 328.57,362.89 329.14,362.89 329.71,362.89 330.28,362.89 330.84,362.88 331.41,362.88 331.98,362.88 332.55,362.88 333.12,362.88 333.69,362.88 334.26,362.88 334.82,362.88 335.39,362.88 335.96,362.88 336.53,362.87 337.10,362.87 337.67,362.87 338.24,362.87 338.80,362.87 339.37,362.87 339.94,362.87 340.51,362.87 341.08,362.87 341.65,362.87 342.22,362.87 342.78,362.86 343.35,362.86 343.92,362.86 344.49,362.86 345.06,362.86 345.63,362.86 346.20,362.86 346.76,362.86 347.33,362.86 347.90,362.86 348.47,362.86 349.04,362.86 349.61,362.85 350.18,362.85 350.75,362.85 351.31,362.85 351.88,362.85 352.45,362.85 353.02,362.85 353.59,362.85 354.16,362.85 354.73,362.85 355.29,362.84 355.86,362.84 356.43,362.84 357.00,362.84 357.57,362.84 358.14,362.84 358.71,362.84 359.27,362.84 359.84,362.84 360.41,362.83 360.98,362.83 361.55,362.83 362.12,362.83 362.69,362.83 363.25,362.83 363.82,362.83 364.39,362.83 364.96,362.82 365.53,362.82 366.10,362.82 366.67,362.82 367.23,362.82 367.80,362.82 368.37,362.82 368.94,362.81 369.51,362.81 370.08,362.81 370.65,362.81 371.21,362.81 371.78,362.81 372.35,362.80 372.92,362.80 373.49,362.80 374.06,362.80 374.63,362.80 375.19,362.79 375.76,362.79 376.33,362.79 376.90,362.79 377.47,362.79 378.04,362.78 378.61,362.78 379.18,362.78 379.74,362.78 380.31,362.77 380.88,362.77 381.45,362.77 382.02,362.77 382.59,362.76 383.16,362.76 383.72,362.76 384.29,362.76 384.86,362.75 385.43,362.75 386.00,362.75 386.57,362.74 387.14,362.74 387.70,362.74 388.27,362.73 388.84,362.73 389.41,362.73 389.98,362.72 390.55,362.72 391.12,362.72 391.68,362.71 392.25,362.71 392.82,362.71 393.39,362.70 393.96,362.70 394.53,362.69 395.10,362.69 395.66,362.69 396.23,362.68 396.80,362.68 397.37,362.67 397.94,362.67 398.51,362.67 399.08,362.66 399.64,362.66 400.21,362.65 400.78,362.65 401.35,362.64 401.92,362.64 402.49,362.63 403.06,362.63 403.62,362.62 404.19,362.62 404.76,362.61 405.05,362.61 405.33,362.60 405.90,362.58 406.47,362.55 407.04,362.50 407.61,362.44 408.17,362.37 408.74,362.29 409.31,362.20 409.88,362.11 410.45,362.02 410.73,361.97 411.02,361.92 411.59,361.81 412.15,361.68 412.72,361.53 413.29,361.36 413.86,361.17 414.43,360.97 415.00,360.73 415.57,360.48 416.13,360.20 416.42,360.05 416.70,359.88 417.27,359.47 417.84,358.97 418.41,358.37 418.98,357.68 419.55,356.91 420.11,356.04 420.68,355.09 421.25,354.05 421.82,352.94 422.10,352.35 422.39,351.70 422.96,350.09 423.53,348.11 424.09,345.79 424.66,343.19 425.23,340.35 425.80,337.31 426.37,334.12 426.94,330.82 427.51,327.45 427.79,325.75 428.07,323.88 428.64,319.23 429.21,313.67 429.78,307.55 430.35,301.24 430.92,295.08 431.49,289.44 432.05,284.68 432.62,281.15 433.19,279.22 433.48,278.96 433.76,279.39 434.33,282.57 434.90,288.31 435.47,295.95 436.04,304.83 436.60,314.30 437.17,323.70 437.74,332.37 438.31,339.67 438.88,344.92 439.16,346.58 439.45,347.87 440.02,350.36 440.58,352.73 441.15,354.92 441.72,356.92 442.29,358.67 442.86,360.15 443.43,361.31 444.00,362.12 444.56,362.55 444.85,362.61 445.13,362.61 445.70,362.62 446.27,362.63 446.84,362.64 447.41,362.64 447.98,362.65 448.54,362.66 449.11,362.66 449.68,362.67 450.25,362.68 450.82,362.68 451.39,362.69 451.96,362.70 452.52,362.70 453.09,362.71 453.66,362.71 454.23,362.72 454.80,362.72 455.37,362.73 455.94,362.73 456.50,362.74 457.07,362.74 457.64,362.75 458.21,362.75 458.78,362.76 459.35,362.76 459.92,362.76 460.48,362.77 461.05,362.77 461.62,362.78 462.19,362.78 462.76,362.78 463.33,362.79 463.90,362.79 464.47,362.79 465.03,362.80 465.60,362.80 466.17,362.80 466.74,362.81 467.31,362.81 467.88,362.81 468.45,362.81 469.01,362.82 469.58,362.82 470.15,362.82 470.72,362.82 471.29,362.82 471.86,362.83 472.43,362.83 472.99,362.83 473.56,362.83 474.13,362.83 474.70,362.84 475.27,362.84 475.84,362.84 476.41,362.84 476.97,362.84 477.54,362.84 478.11,362.85 478.68,362.85 479.25,362.85 479.82,362.85 480.39,362.85 480.95,362.85 481.52,362.85 482.09,362.86 482.66,362.86 483.23,362.86 483.80,362.86 484.37,362.86 484.93,362.86 485.50,362.86 486.07,362.86 486.64,362.87 487.21,362.87 487.78,362.87 488.35,362.87 488.91,362.87 489.48,362.87 490.05,362.87 490.62,362.87 491.19,362.87 491.76,362.88 492.33,362.88 492.89,362.88 493.46,362.88 494.03,362.88 494.60,362.88 495.17,362.88 495.74,362.89 496.31,362.89 496.88,362.89 497.44,362.89 498.01,362.89 498.58,362.89 499.15,362.90 499.72,362.90 500.29,362.90 500.86,362.90 501.42,362.90 501.99,362.91 502.56,362.91 503.13,362.91 503.70,362.91 504.27,362.92 504.84,362.92 505.40,362.92 505.97,362.92 506.54,362.93 507.11,362.93" fill="none" stroke="#222" stroke-width="0.7" stroke-dasharray="1 0.9" opacity="1"/>
<polyline points="313.79,362.93 314.35,362.93 314.92,362.93 315.49,362.92 316.06,362.92 316.63,362.92 317.20,362.92 317.77,362.92 318.33,362.92 318.90,362.91 319.47,362.91 320.04,362.91 320.61,362.91 321.18,362.91 321.75,362.91 322.31,362.91 322.88,362.90 323.45,362.90 324.02,362.90 324.59,362.90 325.16,362.90 325.73,362.90 326.30,362.90 326.86,362.89 327.43,362.89 328.00,362.89 328.57,362.89 329.14,362.89 329.71,362.89 330.28,362.89 330.84,362.89 331.41,362.89 331.98,362.88 332.55,362.88 333.12,362.88 333.69,362.88 334.26,362.88 334.82,362.88 335.39,362.88 335.96,362.88 336.53,362.88 337.10,362.88 337.67,362.87 338.24,362.87 338.80,362.87 339.37,362.87 339.94,362.87 340.51,362.87 341.08,362.87 341.65,362.87 342.22,362.87 342.78,362.87 343.35,362.87 343.92,362.86 344.49,362.86 345.06,362.86 345.63,362.86 346.20,362.86 346.76,362.86 347.33,362.86 347.90,362.86 348.47,362.86 349.04,362.86 349.61,362.86 350.18,362.85 350.75,362.85 351.31,362.85 351.88,362.85 352.45,362.85 353.02,362.85 353.59,362.85 354.16,362.85 354.73,362.85 355.29,362.85 355.86,362.85 356.43,362.84 357.00,362.84 357.57,362.84 358.14,362.84 358.71,362.84 359.27,362.84 359.84,362.84 360.41,362.84 360.98,362.84 361.55,362.84 362.12,362.83 362.69,362.83 363.25,362.83 363.82,362.83 364.39,362.83 364.96,362.83 365.53,362.83 366.10,362.83 366.67,362.82 367.23,362.82 367.80,362.82 368.37,362.82 368.94,362.82 369.51,362.82 370.08,362.82 370.65,362.82 371.21,362.81 371.78,362.81 372.35,362.81 372.92,362.81 373.49,362.81 374.06,362.81 374.63,362.81 375.19,362.80 375.76,362.80 376.33,362.80 376.90,362.80 377.47,362.80 378.04,362.80 378.61,362.79 379.18,362.79 379.74,362.79 380.31,362.79 380.88,362.79 381.45,362.78 382.02,362.78 382.59,362.78 383.16,362.78 383.72,362.78 384.29,362.77 384.86,362.77 385.43,362.77 386.00,362.77 386.57,362.76 387.14,362.76 387.70,362.76 388.27,362.76 388.84,362.76 389.41,362.75 389.98,362.75 390.55,362.75 391.12,362.75 391.68,362.74 392.25,362.74 392.82,362.74 393.39,362.73 393.96,362.73 394.53,362.73 395.10,362.73 395.66,362.72 396.23,362.72 396.80,362.72 397.37,362.71 397.94,362.71 398.51,362.71 399.08,362.70 399.64,362.70 400.21,362.70 400.78,362.69 401.35,362.69 401.92,362.69 402.49,362.68 403.06,362.68 403.62,362.67 404.19,362.67 404.76,362.67 405.33,362.66 405.90,362.66 406.47,362.66 407.04,362.65 407.61,362.65 408.17,362.64 408.74,362.64 409.31,362.63 409.88,362.63 410.45,362.63 411.02,362.62 411.59,362.62 412.15,362.61 412.44,362.61 412.72,362.61 413.29,362.60 413.86,362.58 414.43,362.56 415.00,362.53 415.57,362.50 416.13,362.46 416.70,362.42 417.27,362.37 417.84,362.32 418.12,362.29 418.41,362.25 418.98,362.13 419.55,361.95 420.11,361.71 420.68,361.43 421.25,361.09 421.82,360.71 422.39,360.29 422.96,359.83 423.53,359.34 423.81,359.08 424.09,358.80 424.66,358.09 425.23,357.20 425.80,356.14 426.37,354.90 426.94,353.50 427.51,351.94 428.07,350.23 428.64,348.36 429.21,346.36 429.50,345.30 429.78,344.11 430.35,341.06 430.92,337.24 431.49,332.77 432.05,327.78 432.62,322.41 433.19,316.77 433.76,311.01 434.33,305.25 434.90,299.63 435.18,296.91 435.47,293.85 436.04,286.36 436.60,279.03 437.17,274.22 437.46,273.51 437.74,274.31 438.31,280.00 438.88,289.51 439.45,300.89 440.02,312.21 440.58,321.50 440.87,324.79 441.15,327.51 441.72,332.96 442.29,338.31 442.86,343.45 443.43,348.24 444.00,352.55 444.56,356.26 445.13,359.23 445.70,361.34 446.27,362.46 446.55,362.61 446.84,362.61 447.41,362.62 447.98,362.63 448.54,362.64 449.11,362.64 449.68,362.65 450.25,362.66 450.82,362.67 451.39,362.67 451.96,362.68 452.52,362.69 453.09,362.69 453.66,362.70 454.23,362.70 454.80,362.71 455.37,362.72 455.94,362.72 456.50,362.73 457.07,362.73 457.64,362.74 458.21,362.74 458.78,362.75 459.35,362.75 459.92,362.76 460.48,362.76 461.05,362.76 461.62,362.77 462.19,362.77 462.76,362.78 463.33,362.78 463.90,362.78 464.47,362.79 465.03,362.79 465.60,362.79 466.17,362.80 466.74,362.80 467.31,362.80 467.88,362.81 468.45,362.81 469.01,362.81 469.58,362.81 470.15,362.82 470.72,362.82 471.29,362.82 471.86,362.82 472.43,362.82 472.99,362.83 473.56,362.83 474.13,362.83 474.70,362.83 475.27,362.83 475.84,362.84 476.41,362.84 476.97,362.84 477.54,362.84 478.11,362.84 478.68,362.84 479.25,362.85 479.82,362.85 480.39,362.85 480.95,362.85 481.52,362.85 482.09,362.85 482.66,362.85 483.23,362.86 483.80,362.86 484.37,362.86 484.93,362.86 485.50,362.86 486.07,362.86 486.64,362.86 487.21,362.87 487.78,362.87 488.35,362.87 488.91,362.87 489.48,362.87 490.05,362.87 490.62,362.87 491.19,362.87 491.76,362.88 492.33,362.88 492.89,362.88 493.46,362.88 494.03,362.88 494.60,362.88 495.17,362.88 495.74,362.89 496.31,362.89 496.88,362.89 497.44,362.89 498.01,362.89 498.58,362.89 499.15,362.90 499.72,362.90 500.29,362.90 500.86,362.90 501.42,362.90 501.99,362.91 502.56,362.91 503.13,362.91 503.70,362.91 504.27,362.92 504.84,362.92 505.40,362.92 505.97,362.92 506.54,362.93 507.11,362.93" fill="none" stroke="#f050e0" stroke-width="0.6" stroke-dasharray="2.2 1.2" opacity="1"/>
<polyline points="313.79,362.93 314.35,362.93 314.92,362.93 315.49,362.92 316.06,362.92 316.63,362.92 317.20,362.92 317.77,362.92 318.33,362.91 318.90,362.91 319.47,362.91 320.04,362.91 320.61,362.91 321.18,362.91 321.75,362.91 322.31,362.90 322.88,362.90 323.45,362.90 324.02,362.90 324.59,362.90 325.16,362.90 325.73,362.90 326.30,362.89 326.86,362.89 327.43,362.89 328.00,362.89 328.57,362.89 329.14,362.89 329.71,362.89 330.28,362.89 330.84,362.88 331.41,362.88 331.98,362.88 332.55,362.88 333.12,362.88 333.69,362.88 334.26,362.88 334.82,362.88 335.39,362.88 335.96,362.87 336.53,362.87 337.10,362.87 337.67,362.87 338.24,362.87 338.80,362.87 339.37,362.87 339.94,362.87 340.51,362.87 341.08,362.87 341.65,362.86 342.22,362.86 342.78,362.86 343.35,362.86 343.92,362.86 344.49,362.86 345.06,362.86 345.63,362.86 346.20,362.86 346.76,362.86 347.33,362.85 347.90,362.85 348.47,362.85 349.04,362.85 349.61,362.85 350.18,362.85 350.75,362.85 351.31,362.85 351.88,362.85 352.45,362.85 353.02,362.84 353.59,362.84 354.16,362.84 354.73,362.84 355.29,362.84 355.86,362.84 356.43,362.84 357.00,362.84 357.57,362.84 358.14,362.83 358.71,362.83 359.27,362.83 359.84,362.83 360.41,362.83 360.98,362.83 361.55,362.83 362.12,362.83 362.69,362.82 363.25,362.82 363.82,362.82 364.39,362.82 364.96,362.82 365.53,362.82 366.10,362.82 366.67,362.82 367.23,362.81 367.80,362.81 368.37,362.81 368.94,362.81 369.51,362.81 370.08,362.81 370.65,362.80 371.21,362.80 371.78,362.80 372.35,362.80 372.92,362.80 373.49,362.80 374.06,362.79 374.63,362.79 375.19,362.79 375.76,362.79 376.33,362.79 376.90,362.78 377.47,362.78 378.04,362.78 378.61,362.78 379.18,362.77 379.74,362.77 380.31,362.77 380.88,362.77 381.45,362.77 382.02,362.76 382.59,362.76 383.16,362.76 383.72,362.75 384.29,362.75 384.86,362.75 385.43,362.75 386.00,362.74 386.57,362.74 387.14,362.74 387.70,362.74 388.27,362.73 388.84,362.73 389.41,362.73 389.98,362.72 390.55,362.72 391.12,362.72 391.68,362.71 392.25,362.71 392.82,362.71 393.39,362.70 393.96,362.70 394.53,362.70 395.10,362.69 395.66,362.69 396.23,362.68 396.80,362.68 397.37,362.68 397.94,362.67 398.51,362.67 399.08,362.66 399.64,362.66 400.21,362.66 400.78,362.65 401.35,362.65 401.92,362.64 402.49,362.64 403.06,362.63 403.62,362.63 404.19,362.62 404.76,362.62 405.33,362.61 405.90,362.61 406.47,362.60 407.04,362.59 407.61,362.57 408.17,362.55 408.74,362.52 409.31,362.49 409.88,362.45 410.45,362.40 411.02,362.35 411.59,362.29 412.15,362.12 412.72,361.75 413.29,361.21 413.86,360.52 414.43,359.70 415.00,358.79 415.57,357.79 416.13,356.75 416.70,355.67 417.27,354.60 417.84,353.38 418.41,351.91 418.98,350.24 419.55,348.41 420.11,346.47 420.68,344.48 421.25,342.49 421.82,340.54 422.39,338.68 422.96,336.97 423.53,335.23 424.09,333.32 424.66,331.33 425.23,329.33 425.80,327.41 426.37,325.65 426.94,324.14 427.51,322.95 428.07,322.18 428.64,321.91 429.21,322.07 429.78,322.53 430.35,323.25 430.92,324.20 431.49,325.33 432.05,326.61 432.62,328.00 433.19,329.47 433.76,330.98 434.33,332.48 434.90,334.33 435.47,336.77 436.04,339.64 436.60,342.77 437.17,346.00 437.74,349.16 438.31,352.08 438.88,354.61 439.45,356.57 440.02,357.80 440.58,358.59 441.15,359.33 441.72,360.02 442.29,360.65 442.86,361.21 443.43,361.68 444.00,362.07 444.56,362.36 445.13,362.54 445.70,362.61 446.27,362.62 446.84,362.62 447.41,362.63 447.98,362.64 448.54,362.65 449.11,362.65 449.68,362.66 450.25,362.67 450.82,362.67 451.39,362.68 451.96,362.69 452.52,362.69 453.09,362.70 453.66,362.71 454.23,362.71 454.80,362.72 455.37,362.72 455.94,362.73 456.50,362.73 457.07,362.74 457.64,362.74 458.21,362.75 458.78,362.75 459.35,362.76 459.92,362.76 460.48,362.76 461.05,362.77 461.62,362.77 462.19,362.77 462.76,362.78 463.33,362.78 463.90,362.79 464.47,362.79 465.03,362.79 465.60,362.80 466.17,362.80 466.74,362.80 467.31,362.80 467.88,362.81 468.45,362.81 469.01,362.81 469.58,362.81 470.15,362.82 470.72,362.82 471.29,362.82 471.86,362.82 472.43,362.83 472.99,362.83 473.56,362.83 474.13,362.83 474.70,362.83 475.27,362.84 475.84,362.84 476.41,362.84 476.97,362.84 477.54,362.84 478.11,362.84 478.68,362.85 479.25,362.85 479.82,362.85 480.39,362.85 480.95,362.85 481.52,362.85 482.09,362.85 482.66,362.85 483.23,362.86 483.80,362.86 484.37,362.86 484.93,362.86 485.50,362.86 486.07,362.86 486.64,362.86 487.21,362.87 487.78,362.87 488.35,362.87 488.91,362.87 489.48,362.87 490.05,362.87 490.62,362.87 491.19,362.87 491.76,362.88 492.33,362.88 492.89,362.88 493.46,362.88 494.03,362.88 494.60,362.88 495.17,362.88 495.74,362.89 496.31,362.89 496.88,362.89 497.44,362.89 498.01,362.89 498.58,362.89 499.15,362.90 499.72,362.90 500.29,362.90 500.86,362.90 501.42,362.90 501.99,362.91 502.56,362.91 503.13,362.91 503.70,362.91 504.27,362.92 504.84,362.92 505.40,362.92 505.97,362.92 506.54,362.93 507.11,362.93" fill="none" stroke="#7a2a78" stroke-width="0.75" stroke-dasharray="3 0.7 0.7 0.7" opacity="1"/>
<rect x="414.72" y="358.35" width="3.4" height="3.4" fill="#fff" stroke="#555" stroke-width="0.6"/>
<rect x="420.40" y="350.65" width="3.4" height="3.4" fill="#fff" stroke="#555" stroke-width="0.6"/>
<rect x="426.09" y="324.05" width="3.4" height="3.4" fill="#fff" stroke="#555" stroke-width="0.6"/>
<rect x="431.78" y="277.26" width="3.4" height="3.4" fill="#fff" stroke="#555" stroke-width="0.6"/>
<rect x="437.46" y="344.88" width="3.4" height="3.4" fill="#fff" stroke="#555" stroke-width="0.6"/>
<path d="M314.92,360.53 L315.63,361.95 L317.21,362.18 L316.06,363.30 L316.33,364.87 L314.92,364.13 L313.51,364.87 L313.78,363.30 L312.64,362.18 L314.22,361.95Z" fill="#860c84"/>
<path d="M320.61,360.51 L321.31,361.94 L322.89,362.17 L321.75,363.28 L322.02,364.85 L320.61,364.11 L319.20,364.85 L319.47,363.28 L318.33,362.17 L319.90,361.94Z" fill="#860c84"/>
<path d="M326.30,360.49 L327.00,361.92 L328.58,362.15 L327.44,363.26 L327.71,364.84 L326.30,364.09 L324.88,364.84 L325.15,363.26 L324.01,362.15 L325.59,361.92Z" fill="#860c84"/>
<path d="M331.98,360.48 L332.69,361.91 L334.26,362.14 L333.12,363.25 L333.39,364.82 L331.98,364.08 L330.57,364.82 L330.84,363.25 L329.70,362.14 L331.28,361.91Z" fill="#860c84"/>
<path d="M337.67,360.47 L338.37,361.90 L339.95,362.13 L338.81,363.24 L339.08,364.81 L337.67,364.07 L336.26,364.81 L336.53,363.24 L335.38,362.13 L336.96,361.90Z" fill="#860c84"/>
<path d="M343.35,360.46 L344.06,361.89 L345.64,362.12 L344.49,363.23 L344.76,364.80 L343.35,364.06 L341.94,364.80 L342.21,363.23 L341.07,362.12 L342.65,361.89Z" fill="#860c84"/>
<path d="M349.04,360.45 L349.74,361.88 L351.32,362.11 L350.18,363.22 L350.45,364.79 L349.04,364.05 L347.63,364.79 L347.90,363.22 L346.76,362.11 L348.33,361.88Z" fill="#860c84"/>
<path d="M354.73,360.44 L355.43,361.87 L357.01,362.10 L355.87,363.21 L356.14,364.78 L354.73,364.04 L353.31,364.78 L353.58,363.21 L352.44,362.10 L354.02,361.87Z" fill="#860c84"/>
<path d="M360.41,360.43 L361.12,361.86 L362.69,362.09 L361.55,363.20 L361.82,364.77 L360.41,364.03 L359.00,364.77 L359.27,363.20 L358.13,362.09 L359.71,361.86Z" fill="#860c84"/>
<path d="M366.10,360.42 L366.80,361.85 L368.38,362.07 L367.24,363.19 L367.51,364.76 L366.10,364.02 L364.69,364.76 L364.96,363.19 L363.81,362.07 L365.39,361.85Z" fill="#860c84"/>
<path d="M371.78,360.40 L372.49,361.83 L374.07,362.06 L372.92,363.17 L373.19,364.74 L371.78,364.00 L370.37,364.74 L370.64,363.17 L369.50,362.06 L371.08,361.83Z" fill="#860c84"/>
<path d="M377.47,360.38 L378.17,361.81 L379.75,362.04 L378.61,363.15 L378.88,364.72 L377.47,363.98 L376.06,364.72 L376.33,363.15 L375.19,362.04 L376.76,361.81Z" fill="#860c84"/>
<path d="M383.16,360.36 L383.86,361.79 L385.44,362.02 L384.30,363.13 L384.57,364.70 L383.16,363.96 L381.74,364.70 L382.01,363.13 L380.87,362.02 L382.45,361.79Z" fill="#860c84"/>
<path d="M388.84,360.33 L389.55,361.76 L391.12,361.99 L389.98,363.10 L390.25,364.67 L388.84,363.93 L387.43,364.67 L387.70,363.10 L386.56,361.99 L388.14,361.76Z" fill="#860c84"/>
<path d="M394.53,360.30 L395.23,361.72 L396.81,361.95 L395.67,363.07 L395.94,364.64 L394.53,363.90 L393.12,364.64 L393.39,363.07 L392.24,361.95 L393.82,361.72Z" fill="#860c84"/>
<path d="M400.21,360.26 L400.92,361.68 L402.50,361.91 L401.35,363.03 L401.62,364.60 L400.21,363.86 L398.80,364.60 L399.07,363.03 L397.93,361.91 L399.51,361.68Z" fill="#860c84"/>
<path d="M405.90,360.21 L406.60,361.64 L408.18,361.87 L407.04,362.98 L407.31,364.55 L405.90,363.81 L404.49,364.55 L404.76,362.98 L403.62,361.87 L405.19,361.64Z" fill="#860c84"/>
<path d="M411.59,359.89 L412.29,361.32 L413.87,361.55 L412.73,362.66 L413.00,364.23 L411.59,363.49 L410.17,364.23 L410.44,362.66 L409.30,361.55 L410.88,361.32Z" fill="#860c84"/>
<path d="M417.27,351.70 L418.12,353.42 L420.03,353.70 L418.65,355.04 L418.98,356.94 L417.27,356.05 L415.57,356.94 L415.89,355.04 L414.51,353.70 L416.42,353.42Z" fill="#860c84"/>
<path d="M422.96,334.07 L423.81,335.80 L425.72,336.07 L424.34,337.42 L424.66,339.32 L422.96,338.42 L421.25,339.32 L421.58,337.42 L420.20,336.07 L422.10,335.80Z" fill="#860c84"/>
<path d="M428.64,319.01 L429.50,320.73 L431.40,321.01 L430.02,322.35 L430.35,324.25 L428.64,323.36 L426.94,324.25 L427.26,322.35 L425.89,321.01 L427.79,320.73Z" fill="#860c84"/>
<path d="M434.33,329.58 L435.18,331.31 L437.09,331.59 L435.71,332.93 L436.03,334.83 L434.33,333.93 L432.62,334.83 L432.95,332.93 L431.57,331.59 L433.48,331.31Z" fill="#860c84"/>
<path d="M440.02,354.90 L440.87,356.63 L442.77,356.91 L441.39,358.25 L441.72,360.15 L440.02,359.25 L438.31,360.15 L438.64,358.25 L437.26,356.91 L439.16,356.63Z" fill="#860c84"/>
<path d="M445.70,360.21 L446.41,361.64 L447.98,361.87 L446.84,362.98 L447.11,364.55 L445.70,363.81 L444.29,364.55 L444.56,362.98 L443.42,361.87 L445.00,361.64Z" fill="#860c84"/>
<path d="M451.39,360.28 L452.09,361.71 L453.67,361.94 L452.53,363.05 L452.80,364.62 L451.39,363.88 L449.98,364.62 L450.25,363.05 L449.10,361.94 L450.68,361.71Z" fill="#860c84"/>
<path d="M457.07,360.34 L457.78,361.77 L459.36,362.00 L458.21,363.11 L458.48,364.68 L457.07,363.94 L455.66,364.68 L455.93,363.11 L454.79,362.00 L456.37,361.77Z" fill="#860c84"/>
<path d="M462.76,360.38 L463.46,361.81 L465.04,362.04 L463.90,363.15 L464.17,364.72 L462.76,363.98 L461.35,364.72 L461.62,363.15 L460.48,362.04 L462.05,361.81Z" fill="#860c84"/>
<path d="M468.45,360.41 L469.15,361.84 L470.73,362.07 L469.59,363.18 L469.86,364.75 L468.45,364.01 L467.03,364.75 L467.30,363.18 L466.16,362.07 L467.74,361.84Z" fill="#860c84"/>
<path d="M474.13,360.43 L474.84,361.86 L476.41,362.09 L475.27,363.20 L475.54,364.77 L474.13,364.03 L472.72,364.77 L472.99,363.20 L471.85,362.09 L473.43,361.86Z" fill="#860c84"/>
<path d="M479.82,360.45 L480.52,361.88 L482.10,362.11 L480.96,363.22 L481.23,364.79 L479.82,364.05 L478.41,364.79 L478.68,363.22 L477.53,362.11 L479.11,361.88Z" fill="#860c84"/>
<path d="M485.50,360.46 L486.21,361.89 L487.79,362.12 L486.64,363.23 L486.91,364.80 L485.50,364.06 L484.09,364.80 L484.36,363.23 L483.22,362.12 L484.80,361.89Z" fill="#860c84"/>
<path d="M491.19,360.47 L491.89,361.90 L493.47,362.13 L492.33,363.24 L492.60,364.82 L491.19,364.07 L489.78,364.82 L490.05,363.24 L488.91,362.13 L490.48,361.90Z" fill="#860c84"/>
<path d="M496.88,360.49 L497.58,361.92 L499.16,362.15 L498.02,363.26 L498.29,364.83 L496.88,364.09 L495.46,364.83 L495.73,363.26 L494.59,362.15 L496.17,361.92Z" fill="#860c84"/>
<path d="M502.56,360.51 L503.27,361.94 L504.84,362.17 L503.70,363.28 L503.97,364.85 L502.56,364.11 L501.15,364.85 L501.42,363.28 L500.28,362.17 L501.86,361.94Z" fill="#860c84"/>
<path d="M315.78,360.52 L316.48,361.95 L318.06,362.18 L316.92,363.29 L317.19,364.86 L315.78,364.12 L314.37,364.86 L314.63,363.29 L313.49,362.18 L315.07,361.95Z" fill="#ff10f8"/>
<path d="M321.46,360.51 L322.17,361.94 L323.74,362.17 L322.60,363.28 L322.87,364.85 L321.46,364.11 L320.05,364.85 L320.32,363.28 L319.18,362.17 L320.76,361.94Z" fill="#ff10f8"/>
<path d="M327.15,360.49 L327.85,361.92 L329.43,362.15 L328.29,363.26 L328.56,364.84 L327.15,364.09 L325.74,364.84 L326.01,363.26 L324.87,362.15 L326.44,361.92Z" fill="#ff10f8"/>
<path d="M332.83,360.48 L333.54,361.91 L335.12,362.14 L333.98,363.25 L334.24,364.82 L332.83,364.08 L331.42,364.82 L331.69,363.25 L330.55,362.14 L332.13,361.91Z" fill="#ff10f8"/>
<path d="M338.52,360.47 L339.23,361.90 L340.80,362.13 L339.66,363.24 L339.93,364.81 L338.52,364.07 L337.11,364.81 L337.38,363.24 L336.24,362.13 L337.81,361.90Z" fill="#ff10f8"/>
<path d="M344.21,360.46 L344.91,361.89 L346.49,362.12 L345.35,363.23 L345.62,364.81 L344.21,364.06 L342.80,364.81 L343.06,363.23 L341.92,362.12 L343.50,361.89Z" fill="#ff10f8"/>
<path d="M349.89,360.45 L350.60,361.88 L352.17,362.11 L351.03,363.23 L351.30,364.80 L349.89,364.05 L348.48,364.80 L348.75,363.23 L347.61,362.11 L349.19,361.88Z" fill="#ff10f8"/>
<path d="M355.58,360.45 L356.28,361.88 L357.86,362.10 L356.72,363.22 L356.99,364.79 L355.58,364.05 L354.17,364.79 L354.44,363.22 L353.30,362.10 L354.87,361.88Z" fill="#ff10f8"/>
<path d="M361.26,360.44 L361.97,361.86 L363.55,362.09 L362.41,363.21 L362.67,364.78 L361.26,364.04 L359.85,364.78 L360.12,363.21 L358.98,362.09 L360.56,361.86Z" fill="#ff10f8"/>
<path d="M366.95,360.42 L367.66,361.85 L369.23,362.08 L368.09,363.20 L368.36,364.77 L366.95,364.02 L365.54,364.77 L365.81,363.20 L364.67,362.08 L366.24,361.85Z" fill="#ff10f8"/>
<path d="M372.64,360.41 L373.34,361.84 L374.92,362.07 L373.78,363.18 L374.05,364.75 L372.64,364.01 L371.23,364.75 L371.49,363.18 L370.35,362.07 L371.93,361.84Z" fill="#ff10f8"/>
<path d="M378.32,360.39 L379.03,361.82 L380.60,362.05 L379.46,363.17 L379.73,364.74 L378.32,363.99 L376.91,364.74 L377.18,363.17 L376.04,362.05 L377.62,361.82Z" fill="#ff10f8"/>
<path d="M384.01,360.37 L384.71,361.80 L386.29,362.03 L385.15,363.15 L385.42,364.72 L384.01,363.97 L382.60,364.72 L382.87,363.15 L381.73,362.03 L383.30,361.80Z" fill="#ff10f8"/>
<path d="M389.69,360.35 L390.40,361.78 L391.98,362.01 L390.84,363.12 L391.10,364.69 L389.69,363.95 L388.28,364.69 L388.55,363.12 L387.41,362.01 L388.99,361.78Z" fill="#ff10f8"/>
<path d="M395.38,360.32 L396.09,361.75 L397.66,361.98 L396.52,363.09 L396.79,364.67 L395.38,363.92 L393.97,364.67 L394.24,363.09 L393.10,361.98 L394.67,361.75Z" fill="#ff10f8"/>
<path d="M401.07,360.29 L401.77,361.72 L403.35,361.95 L402.21,363.06 L402.48,364.63 L401.07,363.89 L399.66,364.63 L399.92,363.06 L398.78,361.95 L400.36,361.72Z" fill="#ff10f8"/>
<path d="M406.75,360.25 L407.46,361.68 L409.03,361.91 L407.89,363.02 L408.16,364.59 L406.75,363.85 L405.34,364.59 L405.61,363.02 L404.47,361.91 L406.05,361.68Z" fill="#ff10f8"/>
<path d="M412.44,360.21 L413.14,361.64 L414.72,361.87 L413.58,362.98 L413.85,364.55 L412.44,363.81 L411.03,364.55 L411.30,362.98 L410.16,361.87 L411.73,361.64Z" fill="#ff10f8"/>
<path d="M418.12,359.89 L418.83,361.32 L420.41,361.55 L419.27,362.66 L419.53,364.23 L418.12,363.49 L416.71,364.23 L416.98,362.66 L415.84,361.55 L417.42,361.32Z" fill="#ff10f8"/>
<path d="M423.81,356.08 L424.69,357.87 L426.66,358.16 L425.24,359.55 L425.57,361.51 L423.81,360.58 L422.05,361.51 L422.38,359.55 L420.96,358.16 L422.93,357.87Z" fill="#ff10f8"/>
<path d="M429.50,342.30 L430.38,344.09 L432.35,344.37 L430.92,345.77 L431.26,347.73 L429.50,346.80 L427.73,347.73 L428.07,345.77 L426.64,344.37 L428.61,344.09Z" fill="#ff10f8"/>
<path d="M435.18,293.91 L436.06,295.69 L438.04,295.98 L436.61,297.37 L436.95,299.33 L435.18,298.41 L433.42,299.33 L433.76,297.37 L432.33,295.98 L434.30,295.69Z" fill="#ff10f8"/>
<path d="M440.87,321.79 L441.75,323.58 L443.72,323.86 L442.29,325.25 L442.63,327.22 L440.87,326.29 L439.10,327.22 L439.44,325.25 L438.01,323.86 L439.99,323.58Z" fill="#ff10f8"/>
<path d="M446.55,360.21 L447.26,361.64 L448.84,361.87 L447.70,362.98 L447.96,364.55 L446.55,363.81 L445.14,364.55 L445.41,362.98 L444.27,361.87 L445.85,361.64Z" fill="#ff10f8"/>
<path d="M452.24,360.28 L452.95,361.71 L454.52,361.94 L453.38,363.05 L453.65,364.62 L452.24,363.88 L450.83,364.62 L451.10,363.05 L449.96,361.94 L451.53,361.71Z" fill="#ff10f8"/>
<path d="M457.93,360.34 L458.63,361.77 L460.21,362.00 L459.07,363.11 L459.34,364.68 L457.93,363.94 L456.52,364.68 L456.78,363.11 L455.64,362.00 L457.22,361.77Z" fill="#ff10f8"/>
<path d="M463.61,360.38 L464.32,361.81 L465.89,362.04 L464.75,363.15 L465.02,364.72 L463.61,363.98 L462.20,364.72 L462.47,363.15 L461.33,362.04 L462.91,361.81Z" fill="#ff10f8"/>
<path d="M469.30,360.41 L470.00,361.84 L471.58,362.07 L470.44,363.18 L470.71,364.75 L469.30,364.01 L467.89,364.75 L468.16,363.18 L467.02,362.07 L468.59,361.84Z" fill="#ff10f8"/>
<path d="M474.98,360.43 L475.69,361.86 L477.27,362.09 L476.13,363.20 L476.39,364.78 L474.98,364.03 L473.57,364.78 L473.84,363.20 L472.70,362.09 L474.28,361.86Z" fill="#ff10f8"/>
<path d="M480.67,360.45 L481.38,361.88 L482.95,362.11 L481.81,363.22 L482.08,364.79 L480.67,364.05 L479.26,364.79 L479.53,363.22 L478.39,362.11 L479.96,361.88Z" fill="#ff10f8"/>
<path d="M486.36,360.46 L487.06,361.89 L488.64,362.12 L487.50,363.23 L487.77,364.80 L486.36,364.06 L484.95,364.80 L485.21,363.23 L484.07,362.12 L485.65,361.89Z" fill="#ff10f8"/>
<path d="M492.04,360.48 L492.75,361.91 L494.32,362.13 L493.18,363.25 L493.45,364.82 L492.04,364.08 L490.63,364.82 L490.90,363.25 L489.76,362.13 L491.34,361.91Z" fill="#ff10f8"/>
<path d="M497.73,360.49 L498.43,361.92 L500.01,362.15 L498.87,363.26 L499.14,364.83 L497.73,364.09 L496.32,364.83 L496.59,363.26 L495.45,362.15 L497.02,361.92Z" fill="#ff10f8"/>
<path d="M503.41,360.51 L504.12,361.94 L505.70,362.17 L504.56,363.28 L504.82,364.85 L503.41,364.11 L502.00,364.85 L502.27,363.28 L501.13,362.17 L502.71,361.94Z" fill="#ff10f8"/>
<line x1="313.50" y1="363.00" x2="506.50" y2="363.00" stroke="#b018a8" stroke-width="0.9"/>
</g>
<line x1="314.50" y1="213.90" x2="331.90" y2="213.90" stroke="#ccc" stroke-width="0.7"/>
<rect x="319.40" y="210.10" width="7.6" height="7.6" fill="#fff" stroke="#333" stroke-width="1.0"/>
<line x1="314.50" y1="224.10" x2="332.00" y2="224.10" stroke="#f080e8" stroke-width="0.8"/>
<path d="M323.20,219.10 L324.67,222.08 L327.96,222.55 L325.58,224.87 L326.14,228.15 L323.20,226.60 L320.26,228.15 L320.82,224.87 L318.44,222.55 L321.73,222.08Z" fill="#ff10f8"/>
<line x1="314.50" y1="234.30" x2="332.00" y2="234.30" stroke="#d0b0d0" stroke-width="0.8"/>
<path d="M323.20,229.50 L324.61,232.36 L327.77,232.82 L325.48,235.04 L326.02,238.18 L323.20,236.70 L320.38,238.18 L320.92,235.04 L318.63,232.82 L321.79,232.36Z" fill="#860c84"/>
<text x="334.1" y="217.1" font-size="6.5" text-anchor="start" fill="#1e1e1e" stroke="#1e1e1e" stroke-width="0.18" font-family='"Liberation Sans", sans-serif' font-weight="normal" textLength="18.2" lengthAdjust="spacingAndGlyphs" word-spacing="0.9">PA 66</text>
<text x="334.1" y="226.9" font-size="6.5" text-anchor="start" fill="#1e1e1e" stroke="#1e1e1e" stroke-width="0.18" font-family='"Liberation Sans", sans-serif' font-weight="normal" textLength="43.6" lengthAdjust="spacingAndGlyphs" word-spacing="0.9">PA 66+15% BF</text>
<text x="334.1" y="237.1" font-size="6.5" text-anchor="start" fill="#1e1e1e" stroke="#1e1e1e" stroke-width="0.18" font-family='"Liberation Sans", sans-serif' font-weight="normal" textLength="45.8" lengthAdjust="spacingAndGlyphs" word-spacing="0.9">PA 66 +25% BF</text>
</svg></body></html>
